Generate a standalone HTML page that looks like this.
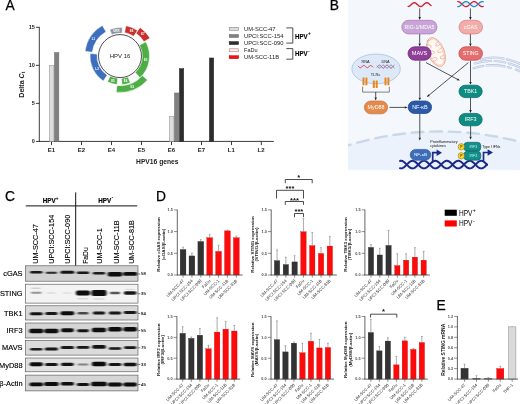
<!DOCTYPE html>
<html><head><meta charset="utf-8"><title>Figure</title>
<style>
html,body{margin:0;padding:0;background:#fff;}
svg{display:block;}
text{font-family:"Liberation Sans",Arial,sans-serif;}
</style></head><body>
<svg width="520" height="404" viewBox="0 0 520 404">
<defs>
<filter id="b1" x="-20%" y="-50%" width="140%" height="200%"><feGaussianBlur stdDeviation="0.95 0.5"/></filter>
<filter id="b2" x="-20%" y="-50%" width="140%" height="200%"><feGaussianBlur stdDeviation="0.45"/></filter>
</defs>
<rect x="0" y="0" width="520" height="404" fill="#fff"/>
<g id="panelA">
<text x="5.40" y="9.80" font-size="13.8" text-anchor="start" fill="#000" stroke="#000" stroke-width="0.25">A</text>
<line x1="39.30" y1="26.90" x2="39.30" y2="141.80" stroke="#1a1a1a" stroke-width="0.85" />
<line x1="38.90" y1="141.40" x2="273.80" y2="141.40" stroke="#1a1a1a" stroke-width="0.85" />
<line x1="35.90" y1="141.40" x2="39.30" y2="141.40" stroke="#1a1a1a" stroke-width="0.85" />
<text x="34.90" y="143.35" font-size="5.5" text-anchor="end" fill="#222" font-weight="bold">0</text>
<line x1="35.90" y1="103.37" x2="39.30" y2="103.37" stroke="#1a1a1a" stroke-width="0.85" />
<text x="34.90" y="105.32" font-size="5.5" text-anchor="end" fill="#222" font-weight="bold">5</text>
<line x1="35.90" y1="65.33" x2="39.30" y2="65.33" stroke="#1a1a1a" stroke-width="0.85" />
<text x="34.90" y="67.28" font-size="5.5" text-anchor="end" fill="#222" font-weight="bold">10</text>
<line x1="35.90" y1="27.30" x2="39.30" y2="27.30" stroke="#1a1a1a" stroke-width="0.85" />
<text x="34.90" y="29.25" font-size="5.5" text-anchor="end" fill="#222" font-weight="bold">15</text>
<line x1="51.50" y1="141.40" x2="51.50" y2="145.10" stroke="#1a1a1a" stroke-width="0.85" />
<text x="51.30" y="151.60" font-size="6.0" text-anchor="middle" fill="#222" font-weight="bold">E1</text>
<line x1="81.50" y1="141.40" x2="81.50" y2="145.10" stroke="#1a1a1a" stroke-width="0.85" />
<text x="81.30" y="151.60" font-size="6.0" text-anchor="middle" fill="#222" font-weight="bold">E2</text>
<line x1="111.50" y1="141.40" x2="111.50" y2="145.10" stroke="#1a1a1a" stroke-width="0.85" />
<text x="111.30" y="151.60" font-size="6.0" text-anchor="middle" fill="#222" font-weight="bold">E4</text>
<line x1="141.50" y1="141.40" x2="141.50" y2="145.10" stroke="#1a1a1a" stroke-width="0.85" />
<text x="141.30" y="151.60" font-size="6.0" text-anchor="middle" fill="#222" font-weight="bold">E5</text>
<line x1="171.50" y1="141.40" x2="171.50" y2="145.10" stroke="#1a1a1a" stroke-width="0.85" />
<text x="171.30" y="151.60" font-size="6.0" text-anchor="middle" fill="#222" font-weight="bold">E6</text>
<line x1="201.50" y1="141.40" x2="201.50" y2="145.10" stroke="#1a1a1a" stroke-width="0.85" />
<text x="201.30" y="151.60" font-size="6.0" text-anchor="middle" fill="#222" font-weight="bold">E7</text>
<line x1="231.50" y1="141.40" x2="231.50" y2="145.10" stroke="#1a1a1a" stroke-width="0.85" />
<text x="231.30" y="151.60" font-size="6.0" text-anchor="middle" fill="#222" font-weight="bold">L1</text>
<line x1="261.30" y1="141.40" x2="261.30" y2="145.10" stroke="#1a1a1a" stroke-width="0.85" />
<text x="261.10" y="151.60" font-size="6.0" text-anchor="middle" fill="#222" font-weight="bold">L2</text>
<text x="157.30" y="164.40" font-size="6.8" text-anchor="middle" fill="#222" font-weight="bold" textLength="42.50" lengthAdjust="spacingAndGlyphs">HPV16 genes</text>
<text transform="translate(23.8 84.7) rotate(-90)" font-size="7.1" font-weight="bold" fill="#222" text-anchor="middle">Delta <tspan font-style="italic">C</tspan><tspan font-size="4.8" dy="1.5">t</tspan></text>
<rect x="49.55" y="65.58" width="4.40" height="75.82" fill="#dcdcdc" stroke="#8a8a8a" stroke-width="0.5"/>
<rect x="54.45" y="52.65" width="4.40" height="88.75" fill="#808080" stroke="#6a6a6a" stroke-width="0.5"/>
<rect x="169.55" y="116.55" width="4.40" height="24.85" fill="#dcdcdc" stroke="#8a8a8a" stroke-width="0.5"/>
<rect x="174.45" y="92.97" width="4.40" height="48.43" fill="#808080" stroke="#6a6a6a" stroke-width="0.5"/>
<rect x="179.35" y="68.63" width="4.40" height="72.77" fill="#2d2d2d" stroke="#2d2d2d" stroke-width="0.5"/>
<rect x="209.35" y="57.98" width="4.40" height="83.42" fill="#2d2d2d" stroke="#2d2d2d" stroke-width="0.5"/>
<rect x="229.20" y="27.30" width="9.40" height="3.00" fill="#dcdcdc" stroke="#777" stroke-width="0.5"/>
<text x="244.00" y="30.80" font-size="5.7" text-anchor="start" fill="#222" textLength="31.50" lengthAdjust="spacingAndGlyphs">UM-SCC-47</text>
<rect x="229.20" y="34.50" width="9.40" height="3.00" fill="#808080" stroke="#666" stroke-width="0.5"/>
<text x="244.00" y="38.00" font-size="5.7" text-anchor="start" fill="#222" textLength="39.40" lengthAdjust="spacingAndGlyphs">UPCI:SCC-154</text>
<rect x="229.20" y="41.60" width="9.40" height="3.00" fill="#2d2d2d" stroke="#222" stroke-width="0.5"/>
<text x="244.00" y="45.10" font-size="5.7" text-anchor="start" fill="#222" textLength="39.40" lengthAdjust="spacingAndGlyphs">UPCI:SCC-090</text>
<rect x="229.20" y="48.80" width="9.40" height="3.00" fill="#fbeaea" stroke="#9a6a6a" stroke-width="0.5"/>
<text x="244.00" y="52.30" font-size="5.7" text-anchor="start" fill="#222" textLength="13.60" lengthAdjust="spacingAndGlyphs">FaDu</text>
<rect x="229.20" y="55.70" width="9.40" height="3.00" fill="#ee1111" stroke="#cc0000" stroke-width="0.5"/>
<text x="244.00" y="59.20" font-size="5.7" text-anchor="start" fill="#222" textLength="35.00" lengthAdjust="spacingAndGlyphs">UM-SCC-11B</text>
<path d="M286.3 27.9 H292.8 V43.1 H286.3" fill="none" stroke="#222" stroke-width="0.8" />
<path d="M286.3 48.6 H292.8 V59.2 H286.3" fill="none" stroke="#222" stroke-width="0.8" />
<text x="295.0" y="38.6" font-size="7.7" font-weight="bold" fill="#000" stroke="#000" stroke-width="0.15" textLength="12.6" lengthAdjust="spacingAndGlyphs">HPV</text>
<text x="307.80" y="35.20" font-size="5.5" text-anchor="start" fill="#111" font-weight="bold">+</text>
<text x="295.0" y="56.4" font-size="7.7" font-weight="bold" fill="#000" stroke="#000" stroke-width="0.15" textLength="12.6" lengthAdjust="spacingAndGlyphs">HPV</text>
<text x="307.90" y="52.60" font-size="5.5" text-anchor="start" fill="#111" font-weight="bold">-</text>
<path d="M85.04 51.19 A35.3 35.3 0 0 1 102.35 25.53 L106.00 31.85 A28.0 28.0 0 0 0 92.27 52.20 Z" fill="#3d6fbe" stroke="#fff" stroke-width="0.5"/>
<text x="93.33" y="39.78" font-size="2.9" text-anchor="middle" fill="#fff" font-weight="bold">L1</text>
<path d="M103.22 80.97 A30.0 30.0 0 0 1 90.11 53.49 L97.09 54.10 A23.0 23.0 0 0 0 107.14 75.17 Z" fill="#3d6fbe" stroke="#fff" stroke-width="0.5"/>
<text x="97.05" y="70.35" font-size="2.9" text-anchor="middle" fill="#fff" font-weight="bold">L2</text>
<path d="M109.75 29.40 A28.6 28.6 0 0 1 122.49 27.61 L122.00 33.19 A23.0 23.0 0 0 0 111.76 34.63 Z" fill="#8a949b" stroke="#fff" stroke-width="0.5"/>
<text x="116.41" y="31.55" font-size="2.9" text-anchor="middle" fill="#fff" font-weight="bold">URR</text>
<path d="M125.92 25.67 A31.0 31.0 0 0 1 137.56 30.55 L133.59 36.32 A24.0 24.0 0 0 0 124.58 32.54 Z" fill="#c9302c" stroke="#fff" stroke-width="0.5"/>
<text x="131.62" y="32.18" font-size="2.9" text-anchor="middle" fill="#fff" font-weight="bold">E6</text>
<path d="M140.08 27.43 A35.0 35.0 0 0 1 150.00 38.07 L144.00 41.68 A28.0 28.0 0 0 0 136.06 33.16 Z" fill="#c9302c" stroke="#fff" stroke-width="0.5"/>
<text x="142.85" y="35.42" font-size="2.9" text-anchor="middle" fill="#fff" font-weight="bold">E7</text>
<path d="M145.80 41.80 A29.5 29.5 0 0 1 140.12 77.67 L135.21 72.41 A22.3 22.3 0 0 0 139.50 45.29 Z" fill="#4cae45" stroke="#fff" stroke-width="0.5"/>
<text x="145.75" y="60.72" font-size="2.9" text-anchor="middle" fill="#fff" font-weight="bold">E1</text>
<path d="M147.47 79.98 A36.4 36.4 0 0 1 116.20 92.30 L116.91 85.54 A29.6 29.6 0 0 0 142.34 75.52 Z" fill="#4cae45" stroke="#fff" stroke-width="0.5"/>
<text x="132.36" y="87.70" font-size="2.9" text-anchor="middle" fill="#fff" font-weight="bold">E2</text>
<path d="M130.25 82.80 A28.6 28.6 0 0 1 122.00 84.63 L121.56 78.35 A22.3 22.3 0 0 0 127.99 76.92 Z" fill="#4cae45" stroke="#fff" stroke-width="0.5"/>
<text x="125.52" y="82.00" font-size="2.9" text-anchor="middle" fill="#fff" font-weight="bold">E4</text>
<path d="M117.01 84.54 A28.6 28.6 0 0 1 107.46 81.81 L110.22 76.14 A22.3 22.3 0 0 0 117.67 78.28 Z" fill="#4cae45" stroke="#fff" stroke-width="0.5"/>
<text x="112.97" y="81.61" font-size="2.9" text-anchor="middle" fill="#fff" font-weight="bold">E5</text>
<circle cx="120.0" cy="56.1" r="21.5" fill="#fff" stroke="#222" stroke-width="0.8"/>
<text x="120.00" y="58.30" font-size="6.0" text-anchor="middle" fill="#222" textLength="20.50" lengthAdjust="spacingAndGlyphs">HPV 16</text>
</g>
<g id="panelB">
<text x="329.70" y="9.70" font-size="13.8" text-anchor="start" fill="#000" stroke="#000" stroke-width="0.25">B</text>
<clipPath id="clipB"><rect x="348" y="0" width="172" height="169.8"/></clipPath>
<g clip-path="url(#clipB)">
<rect x="348.00" y="0.00" width="172.00" height="169.80" fill="#f4f7fc"/>
<path d="M339.6 148.2 A260 215 0 0 1 530 144.8 V180 H339.6 Z" fill="#ecf2fb"/>
<path d="M339.6 148.2 A260 215 0 0 1 530 144.8" fill="none" stroke="#c8d8e7" stroke-width="2.4" stroke-dasharray="11.6 6.9" stroke-linecap="round"/>
<path d="M481 59.6 Q497 53.8 521 64.2" fill="none" stroke="#b6c5df" stroke-width="2.2" stroke-linecap="round" stroke-dasharray="23 3.4 30"/>
<path d="M481 59.6 Q497 53.8 521 64.2" fill="none" stroke="#e8edf8" stroke-width="0.9" stroke-linecap="round" stroke-dasharray="23 3.4 30"/>
<path d="M474.8 63.5 Q496 56.7 521 67.9" fill="none" stroke="#b6c5df" stroke-width="2.2" stroke-linecap="round" stroke-dasharray="16.5 3.4 11 3.4 30"/>
<path d="M474.8 63.5 Q496 56.7 521 67.9" fill="none" stroke="#e8edf8" stroke-width="0.9" stroke-linecap="round" stroke-dasharray="16.5 3.4 11 3.4 30"/>
<path d="M473.6 68.3 Q496 60.7 521 71.7" fill="none" stroke="#b6c5df" stroke-width="2.2" stroke-linecap="round" stroke-dasharray="10 3.4 18 3.4 3 5.5 30"/>
<path d="M473.6 68.3 Q496 60.7 521 71.7" fill="none" stroke="#e8edf8" stroke-width="0.9" stroke-linecap="round" stroke-dasharray="10 3.4 18 3.4 3 5.5 30"/>
<ellipse cx="376.1" cy="68.9" rx="24.2" ry="14.9" fill="#dde8f8" stroke="#8fb1de" stroke-width="0.6"/>
<path d="M408.20 6.49 L408.58 6.43 L408.96 6.30 L409.34 6.11 L409.72 5.87 L410.10 5.58 L410.48 5.25 L410.86 4.90 L411.24 4.54 L411.62 4.18 L412.00 3.83 L412.38 3.52 L412.76 3.24 L413.14 3.01 L413.52 2.84 L413.90 2.74 L414.28 2.70 L414.66 2.73 L415.04 2.83 L415.42 2.99 L415.80 3.21 L416.18 3.49 L416.56 3.80 L416.94 4.14 L417.32 4.50 L417.70 4.86 L418.08 5.21 L418.46 5.54 L418.84 5.84 L419.22 6.09 L419.60 6.29 L419.98 6.42 L420.36 6.49 L420.74 6.49 L421.12 6.42 L421.50 6.29 L421.88 6.09 L422.26 5.84 L422.64 5.54 L423.02 5.21 L423.40 4.86 L423.78 4.50 L424.16 4.14 L424.54 3.80 L424.92 3.49 L425.30 3.21 L425.68 2.99 L426.06 2.83 L426.44 2.73 L426.82 2.70 L427.20 2.74 L427.58 2.84 L427.96 3.01 L428.34 3.24 L428.72 3.52 L429.10 3.83 L429.48 4.18 L429.86 4.54 L430.24 4.90 L430.62 5.25 L431.00 5.58" fill="none" stroke="#d22128" stroke-width="1.4" stroke-linecap="round" stroke-linejoin="round"/>
<line x1="460.00" y1="2.60" x2="460.00" y2="5.60" stroke="#9fc3e6" stroke-width="0.4" />
<line x1="462.10" y1="2.60" x2="462.10" y2="5.60" stroke="#9fc3e6" stroke-width="0.4" />
<line x1="464.20" y1="2.60" x2="464.20" y2="5.60" stroke="#9fc3e6" stroke-width="0.4" />
<line x1="466.30" y1="2.60" x2="466.30" y2="5.60" stroke="#9fc3e6" stroke-width="0.4" />
<line x1="468.40" y1="2.60" x2="468.40" y2="5.60" stroke="#9fc3e6" stroke-width="0.4" />
<line x1="470.50" y1="2.60" x2="470.50" y2="5.60" stroke="#9fc3e6" stroke-width="0.4" />
<line x1="472.60" y1="2.60" x2="472.60" y2="5.60" stroke="#9fc3e6" stroke-width="0.4" />
<line x1="474.70" y1="2.60" x2="474.70" y2="5.60" stroke="#9fc3e6" stroke-width="0.4" />
<line x1="476.80" y1="2.60" x2="476.80" y2="5.60" stroke="#9fc3e6" stroke-width="0.4" />
<line x1="478.90" y1="2.60" x2="478.90" y2="5.60" stroke="#9fc3e6" stroke-width="0.4" />
<line x1="481.00" y1="2.60" x2="481.00" y2="5.60" stroke="#9fc3e6" stroke-width="0.4" />
<path d="M457.80 1.60 L458.22 1.62 L458.65 1.70 L459.07 1.85 L459.49 2.06 L459.92 2.33 L460.34 2.64 L460.76 2.99 L461.19 3.37 L461.61 3.77 L462.03 4.18 L462.46 4.59 L462.88 4.98 L463.30 5.35 L463.73 5.69 L464.15 5.98 L464.57 6.23 L465.00 6.41 L465.42 6.54 L465.84 6.60 L466.27 6.59 L466.69 6.51 L467.11 6.37 L467.54 6.17 L467.96 5.91 L468.38 5.61 L468.81 5.26 L469.23 4.88 L469.65 4.48 L470.08 4.07 L470.50 3.67 L470.92 3.27 L471.35 2.90 L471.77 2.55 L472.19 2.25 L472.62 2.00 L473.04 1.81 L473.46 1.68 L473.89 1.61 L474.31 1.61 L474.73 1.68 L475.16 1.81 L475.58 2.00 L476.00 2.25 L476.43 2.55 L476.85 2.89 L477.27 3.27 L477.70 3.66 L478.12 4.07 L478.54 4.48 L478.97 4.88 L479.39 5.26 L479.81 5.60 L480.24 5.91 L480.66 6.17 L481.08 6.37 L481.51 6.51 L481.93 6.59 L482.35 6.60 L482.78 6.54 L483.20 6.41" fill="none" stroke="#d22128" stroke-width="1.3" stroke-linecap="round" stroke-linejoin="round"/>
<path d="M457.80 6.60 L458.22 6.58 L458.65 6.50 L459.07 6.35 L459.49 6.14 L459.92 5.87 L460.34 5.56 L460.76 5.21 L461.19 4.83 L461.61 4.43 L462.03 4.02 L462.46 3.61 L462.88 3.22 L463.30 2.85 L463.73 2.51 L464.15 2.22 L464.57 1.97 L465.00 1.79 L465.42 1.66 L465.84 1.60 L466.27 1.61 L466.69 1.69 L467.11 1.83 L467.54 2.03 L467.96 2.29 L468.38 2.59 L468.81 2.94 L469.23 3.32 L469.65 3.72 L470.08 4.13 L470.50 4.53 L470.92 4.93 L471.35 5.30 L471.77 5.65 L472.19 5.95 L472.62 6.20 L473.04 6.39 L473.46 6.52 L473.89 6.59 L474.31 6.59 L474.73 6.52 L475.16 6.39 L475.58 6.20 L476.00 5.95 L476.43 5.65 L476.85 5.31 L477.27 4.93 L477.70 4.54 L478.12 4.13 L478.54 3.72 L478.97 3.32 L479.39 2.94 L479.81 2.60 L480.24 2.29 L480.66 2.03 L481.08 1.83 L481.51 1.69 L481.93 1.61 L482.35 1.60 L482.78 1.66 L483.20 1.79" fill="none" stroke="#2f86c9" stroke-width="1.3" stroke-linecap="round" stroke-linejoin="round"/>
<text x="365.60" y="63.10" font-size="3.9" text-anchor="middle" fill="#222" textLength="8.10" lengthAdjust="spacingAndGlyphs">RNA</text>
<text x="385.60" y="63.10" font-size="3.9" text-anchor="middle" fill="#222" textLength="8.10" lengthAdjust="spacingAndGlyphs">DNA</text>
<path d="M358.20 66.18 L358.44 66.42 L358.69 66.66 L358.93 66.90 L359.17 67.13 L359.42 67.33 L359.66 67.49 L359.90 67.61 L360.15 67.68 L360.39 67.70 L360.63 67.66 L360.88 67.58 L361.12 67.44 L361.36 67.26 L361.61 67.06 L361.85 66.82 L362.09 66.58 L362.34 66.34 L362.58 66.11 L362.82 65.91 L363.07 65.74 L363.31 65.61 L363.55 65.53 L363.80 65.50 L364.04 65.53 L364.28 65.60 L364.53 65.73 L364.77 65.90 L365.01 66.11 L365.26 66.33 L365.50 66.57 L365.74 66.82 L365.99 67.05 L366.23 67.26 L366.47 67.44 L366.72 67.57 L366.96 67.66 L367.20 67.70 L367.45 67.68 L367.69 67.61 L367.93 67.49 L368.18 67.33 L368.42 67.13 L368.66 66.91 L368.91 66.67 L369.15 66.43 L369.39 66.19 L369.64 65.98 L369.88 65.79 L370.12 65.65 L370.37 65.55 L370.61 65.50 L370.85 65.51 L371.10 65.57 L371.34 65.68 L371.58 65.84 L371.83 66.03 L372.07 66.25 L372.31 66.49 L372.56 66.73 L372.80 66.97" fill="none" stroke="#d22128" stroke-width="0.9" stroke-linecap="round" stroke-linejoin="round"/>
<path d="M377.20 67.09 L377.48 66.75 L377.76 66.40 L378.04 66.07 L378.32 65.76 L378.60 65.50 L378.88 65.29 L379.16 65.16 L379.44 65.10 L379.72 65.12 L380.00 65.23 L380.28 65.40 L380.56 65.64 L380.84 65.93 L381.12 66.26 L381.40 66.60 L381.68 66.94 L381.96 67.27 L382.24 67.56 L382.52 67.80 L382.80 67.97 L383.08 68.08 L383.36 68.10 L383.64 68.04 L383.92 67.91 L384.20 67.70 L384.48 67.44 L384.76 67.13 L385.04 66.80 L385.32 66.45 L385.60 66.11 L385.88 65.80 L386.16 65.53 L386.44 65.32 L386.72 65.17 L387.00 65.11 L387.28 65.12 L387.56 65.21 L387.84 65.37 L388.12 65.60 L388.40 65.89 L388.68 66.21 L388.96 66.55 L389.24 66.90 L389.52 67.23 L389.80 67.52 L390.08 67.77 L390.36 67.95 L390.64 68.07 L390.92 68.10 L391.20 68.05 L391.48 67.93 L391.76 67.74 L392.04 67.48 L392.32 67.18 L392.60 66.85 L392.88 66.50 L393.16 66.16 L393.44 65.84 L393.72 65.57 L394.00 65.34" fill="none" stroke="#d22128" stroke-width="0.8" stroke-linecap="round" stroke-linejoin="round"/>
<path d="M377.20 66.11 L377.48 66.45 L377.76 66.80 L378.04 67.13 L378.32 67.44 L378.60 67.70 L378.88 67.91 L379.16 68.04 L379.44 68.10 L379.72 68.08 L380.00 67.97 L380.28 67.80 L380.56 67.56 L380.84 67.27 L381.12 66.94 L381.40 66.60 L381.68 66.26 L381.96 65.93 L382.24 65.64 L382.52 65.40 L382.80 65.23 L383.08 65.12 L383.36 65.10 L383.64 65.16 L383.92 65.29 L384.20 65.50 L384.48 65.76 L384.76 66.07 L385.04 66.40 L385.32 66.75 L385.60 67.09 L385.88 67.40 L386.16 67.67 L386.44 67.88 L386.72 68.03 L387.00 68.09 L387.28 68.08 L387.56 67.99 L387.84 67.83 L388.12 67.60 L388.40 67.31 L388.68 66.99 L388.96 66.65 L389.24 66.30 L389.52 65.97 L389.80 65.68 L390.08 65.43 L390.36 65.25 L390.64 65.13 L390.92 65.10 L391.20 65.15 L391.48 65.27 L391.76 65.46 L392.04 65.72 L392.32 66.02 L392.60 66.35 L392.88 66.70 L393.16 67.04 L393.44 67.36 L393.72 67.63 L394.00 67.86" fill="none" stroke="#2f86c9" stroke-width="0.8" stroke-linecap="round" stroke-linejoin="round"/>
<text x="375.60" y="76.10" font-size="3.9" text-anchor="middle" fill="#222" textLength="9.50" lengthAdjust="spacingAndGlyphs">TLRs</text>
<rect x="362.50" y="77.60" width="2.00" height="7.60" fill="#e8861a" rx="0.5"/>
<rect x="365.40" y="77.60" width="2.00" height="7.60" fill="#e8861a" rx="0.5"/>
<rect x="372.80" y="80.40" width="2.00" height="7.60" fill="#e8861a" rx="0.5"/>
<rect x="375.70" y="80.40" width="2.00" height="7.60" fill="#e8861a" rx="0.5"/>
<rect x="384.50" y="77.60" width="2.00" height="7.60" fill="#e8861a" rx="0.5"/>
<rect x="387.40" y="77.60" width="2.00" height="7.60" fill="#e8861a" rx="0.5"/>
<path d="M362.6 86.7 V92.1 H389.3 V86.7" fill="none" stroke="#333" stroke-width="0.6" />
<line x1="375.70" y1="92.00" x2="375.70" y2="97.50" stroke="#1c1c1c" stroke-width="0.75" />
<polygon points="375.70,100.40 374.48,97.50 376.92,97.50" fill="#1c1c1c"/>
<line x1="419.70" y1="8.40" x2="419.70" y2="17.00" stroke="#1c1c1c" stroke-width="0.75" />
<polygon points="419.70,19.90 418.48,17.00 420.92,17.00" fill="#1c1c1c"/>
<line x1="470.40" y1="8.40" x2="470.40" y2="17.00" stroke="#1c1c1c" stroke-width="0.75" />
<polygon points="470.40,19.90 469.18,17.00 471.62,17.00" fill="#1c1c1c"/>
<line x1="419.70" y1="34.00" x2="419.70" y2="43.50" stroke="#1c1c1c" stroke-width="0.75" />
<polygon points="419.70,46.40 418.48,43.50 420.92,43.50" fill="#1c1c1c"/>
<line x1="470.40" y1="34.00" x2="470.40" y2="43.50" stroke="#1c1c1c" stroke-width="0.75" />
<polygon points="470.40,46.40 469.18,43.50 471.62,43.50" fill="#1c1c1c"/>
<line x1="419.80" y1="60.60" x2="419.80" y2="97.70" stroke="#1c1c1c" stroke-width="0.75" />
<polygon points="419.80,100.60 418.58,97.70 421.02,97.70" fill="#1c1c1c"/>
<line x1="470.50" y1="60.60" x2="470.50" y2="81.90" stroke="#1c1c1c" stroke-width="0.75" />
<polygon points="470.50,84.80 469.28,81.90 471.72,81.90" fill="#1c1c1c"/>
<line x1="470.50" y1="97.60" x2="470.50" y2="110.10" stroke="#1c1c1c" stroke-width="0.75" />
<polygon points="470.50,113.00 469.28,110.10 471.72,110.10" fill="#1c1c1c"/>
<line x1="426.00" y1="62.60" x2="457.24" y2="79.24" stroke="#1c1c1c" stroke-width="0.75" />
<polygon points="459.80,80.60 456.67,80.31 457.81,78.16" fill="#1c1c1c"/>
<line x1="468.40" y1="62.60" x2="429.03" y2="95.15" stroke="#1c1c1c" stroke-width="0.75" />
<polygon points="426.80,97.00 428.26,94.21 429.81,96.09" fill="#1c1c1c"/>
<line x1="389.50" y1="107.40" x2="404.70" y2="107.40" stroke="#1c1c1c" stroke-width="0.75" />
<polygon points="407.60,107.40 404.70,108.62 404.70,106.18" fill="#1c1c1c"/>
<line x1="419.80" y1="113.60" x2="419.80" y2="137.70" stroke="#1c1c1c" stroke-width="0.75" />
<polygon points="419.80,140.60 418.58,137.70 421.02,137.70" fill="#1c1c1c"/>
<line x1="470.60" y1="126.00" x2="470.60" y2="136.70" stroke="#1c1c1c" stroke-width="0.75" />
<polygon points="470.60,139.60 469.38,136.70 471.82,136.70" fill="#1c1c1c"/>
<g transform="rotate(-22 436 52)"><ellipse cx="436" cy="52" rx="8.2" ry="15.2" fill="#fdf1ea" stroke="#e58a63" stroke-width="0.6"/><ellipse cx="436" cy="52" rx="6.9" ry="13.9" fill="#fff8f4" stroke="#eaa283" stroke-width="0.4"/><path d="M429.3 42 q5 1 4.5 3.5 q-2.5 2 -4.8 -0.5 M442.7 43 q-5 0.5 -4.6 3.2 q2.5 2 4.9 -0.2 M429.1 49 q5.5 0 5.3 2.6 q-3 2.4 -5.3 0 M442.9 50.5 q-5.5 0 -5.2 2.6 q3 2.2 5.2 0 M429.3 56.5 q5 -0.5 5.3 2.2 q-2.5 2.5 -5 0.6 M442.6 58 q-5 -1 -5 1.6 q2.5 2.5 4.6 1.2 M432 37.8 q2.5 2 4.5 0.3" fill="none" stroke="#e8946f" stroke-width="0.5"/></g>
<rect x="401.80" y="20.30" width="35.20" height="13.60" fill="#c9a4d7" stroke="#a97abd" stroke-width="0.75" rx="6.799999999999999"/>
<text x="419.40" y="29.01" font-size="5.3" text-anchor="middle" fill="#fff" textLength="30.00" lengthAdjust="spacingAndGlyphs">RIG-1/MDA5</text>
<rect x="408.00" y="46.80" width="23.10" height="13.40" fill="#903f99" stroke="#6c2877" stroke-width="0.75" rx="6.700000000000003"/>
<text x="419.55" y="55.41" font-size="5.3" text-anchor="middle" fill="#fff" textLength="15.60" lengthAdjust="spacingAndGlyphs">MAVS</text>
<rect x="459.00" y="20.30" width="23.50" height="13.60" fill="#f2acaa" stroke="#dd7f7d" stroke-width="0.75" rx="6.799999999999999"/>
<text x="470.75" y="29.01" font-size="5.3" text-anchor="middle" fill="#fff" textLength="13.60" lengthAdjust="spacingAndGlyphs">cGAS</text>
<rect x="458.90" y="46.80" width="23.60" height="13.40" fill="#e46e6d" stroke="#c64a4b" stroke-width="0.75" rx="6.700000000000003"/>
<text x="470.70" y="55.41" font-size="5.3" text-anchor="middle" fill="#fff" textLength="16.00" lengthAdjust="spacingAndGlyphs">STING</text>
<rect x="364.40" y="101.00" width="23.20" height="12.80" fill="#e38a4e" stroke="#d2763a" stroke-width="0.75" rx="6.399999999999999"/>
<text x="376.00" y="109.27" font-size="5.2" text-anchor="middle" fill="#fff" textLength="17.00" lengthAdjust="spacingAndGlyphs">MyD88</text>
<rect x="408.20" y="101.00" width="23.40" height="12.50" fill="#2b59a8" stroke="#234a8f" stroke-width="0.75" rx="6.25"/>
<text x="419.90" y="109.12" font-size="5.2" text-anchor="middle" fill="#fff" textLength="15.50" lengthAdjust="spacingAndGlyphs">NF-κB</text>
<rect x="459.00" y="85.20" width="23.20" height="12.40" fill="#0f8c82" stroke="#0a6b64" stroke-width="0.75" rx="6.199999999999996"/>
<text x="470.60" y="93.27" font-size="5.2" text-anchor="middle" fill="#fff" textLength="13.20" lengthAdjust="spacingAndGlyphs">TBK1</text>
<rect x="459.00" y="113.40" width="23.20" height="12.40" fill="#0f8c82" stroke="#0a6b64" stroke-width="0.75" rx="6.199999999999996"/>
<text x="470.60" y="121.47" font-size="5.2" text-anchor="middle" fill="#fff" textLength="11.80" lengthAdjust="spacingAndGlyphs">IRF3</text>
<path d="M400.00 168.25 L400.73 168.39 L401.45 168.37 L402.18 168.21 L402.90 167.91 L403.62 167.47 L404.35 166.93 L405.07 166.29 L405.80 165.58 L406.52 164.83 L407.25 164.08 L407.98 163.35 L408.70 162.66 L409.43 162.05 L410.15 161.55 L410.88 161.16 L411.60 160.91 L412.32 160.80 L413.05 160.85 L413.77 161.04 L414.50 161.37 L415.23 161.83 L415.95 162.40 L416.68 163.06 L417.40 163.77 L418.12 164.52 L418.85 165.27 L419.57 166.00 L420.30 166.67 L421.02 167.26 L421.75 167.74 L422.48 168.10 L423.20 168.33 L423.93 168.40 L424.65 168.33 L425.38 168.10 L426.10 167.74 L426.82 167.26 L427.55 166.67 L428.27 166.00 L429.00 165.27 L429.73 164.52 L430.45 163.77 L431.18 163.06 L431.90 162.40 L432.62 161.83 L433.35 161.37 L434.07 161.04 L434.80 160.85 L435.52 160.80 L436.25 160.91 L436.98 161.16 L437.70 161.55 L438.43 162.05 L439.15 162.66 L439.88 163.35 L440.60 164.08 L441.32 164.83 L442.05 165.58 L442.77 166.29 L443.50 166.93 L444.23 167.47 L444.95 167.91 L445.68 168.21 L446.40 168.37 L447.12 168.39 L447.85 168.25 L448.57 167.97 L449.30 167.56 L450.02 167.03 L450.75 166.40 L451.48 165.70 L452.20 164.96 L452.93 164.21 L453.65 163.47 L454.38 162.78 L455.10 162.15 L455.82 161.63 L456.55 161.22 L457.27 160.94 L458.00 160.81 L458.73 160.83 L459.45 161.00 L460.18 161.30 L460.90 161.74 L461.62 162.30 L462.35 162.94 L463.07 163.65 L463.80 164.39 L464.52 165.15 L465.25 165.88 L465.98 166.56 L466.70 167.16 L467.43 167.67 L468.15 168.05 L468.88 168.30 L469.60 168.40 L470.32 168.35 L471.05 168.15 L471.77 167.81 L472.50 167.35 L473.23 166.78 L473.95 166.12 L474.68 165.40 L475.40 164.65 L476.12 163.90 L476.85 163.18 L477.57 162.51 L478.30 161.92 L479.02 161.44 L479.75 161.09 L480.48 160.87 L481.20 160.80 L481.93 160.88 L482.65 161.11 L483.38 161.47 L484.10 161.96 L484.82 162.55 L485.55 163.22 L486.27 163.95 L487.00 164.70" fill="none" stroke="#1b2889" stroke-width="2.0" stroke-linecap="round" stroke-linejoin="round"/>
<path d="M400.00 160.95 L400.73 160.81 L401.45 160.83 L402.18 160.99 L402.90 161.29 L403.62 161.73 L404.35 162.27 L405.07 162.91 L405.80 163.62 L406.52 164.37 L407.25 165.12 L407.98 165.85 L408.70 166.54 L409.43 167.15 L410.15 167.65 L410.88 168.04 L411.60 168.29 L412.32 168.40 L413.05 168.35 L413.77 168.16 L414.50 167.83 L415.23 167.37 L415.95 166.80 L416.68 166.14 L417.40 165.43 L418.12 164.68 L418.85 163.93 L419.57 163.20 L420.30 162.53 L421.02 161.94 L421.75 161.46 L422.48 161.10 L423.20 160.87 L423.93 160.80 L424.65 160.87 L425.38 161.10 L426.10 161.46 L426.82 161.94 L427.55 162.53 L428.27 163.20 L429.00 163.93 L429.73 164.68 L430.45 165.43 L431.18 166.14 L431.90 166.80 L432.62 167.37 L433.35 167.83 L434.07 168.16 L434.80 168.35 L435.52 168.40 L436.25 168.29 L436.98 168.04 L437.70 167.65 L438.43 167.15 L439.15 166.54 L439.88 165.85 L440.60 165.12 L441.32 164.37 L442.05 163.62 L442.77 162.91 L443.50 162.27 L444.23 161.73 L444.95 161.29 L445.68 160.99 L446.40 160.83 L447.12 160.81 L447.85 160.95 L448.57 161.23 L449.30 161.64 L450.02 162.17 L450.75 162.80 L451.48 163.50 L452.20 164.24 L452.93 164.99 L453.65 165.73 L454.38 166.42 L455.10 167.05 L455.82 167.57 L456.55 167.98 L457.27 168.26 L458.00 168.39 L458.73 168.37 L459.45 168.20 L460.18 167.90 L460.90 167.46 L461.62 166.90 L462.35 166.26 L463.07 165.55 L463.80 164.81 L464.52 164.05 L465.25 163.32 L465.98 162.64 L466.70 162.04 L467.43 161.53 L468.15 161.15 L468.88 160.90 L469.60 160.80 L470.32 160.85 L471.05 161.05 L471.77 161.39 L472.50 161.85 L473.23 162.42 L473.95 163.08 L474.68 163.80 L475.40 164.55 L476.12 165.30 L476.85 166.02 L477.57 166.69 L478.30 167.28 L479.02 167.76 L479.75 168.11 L480.48 168.33 L481.20 168.40 L481.93 168.32 L482.65 168.09 L483.38 167.73 L484.10 167.24 L484.82 166.65 L485.55 165.98 L486.27 165.25 L487.00 164.50" fill="none" stroke="#1b2889" stroke-width="2.0" stroke-linecap="round" stroke-linejoin="round"/>
<rect x="410.20" y="149.40" width="20.60" height="10.80" fill="#3d6cb9" stroke="#3560a8" stroke-width="0.75" rx="5.3999999999999915"/>
<text x="420.50" y="156.38" font-size="4.4" text-anchor="middle" fill="#fff" textLength="13.00" lengthAdjust="spacingAndGlyphs">NF-κB</text>
<path d="M432.7 162.0 V152.7 H437.5" fill="none" stroke="#1c2a8c" stroke-width="1.7" />
<polygon points="442.00,152.70 436.60,149.50 436.60,155.90" fill="#1c2a8c"/>
<path d="M483.5 162.0 V152.5 H488.5" fill="none" stroke="#1c2a8c" stroke-width="1.7" />
<polygon points="493.00,152.50 487.60,149.30 487.60,155.70" fill="#1c2a8c"/>
<text x="430.20" y="143.00" font-size="3.3" text-anchor="start" fill="#111" textLength="27.50" lengthAdjust="spacingAndGlyphs">Proinflammatory</text>
<text x="430.20" y="147.30" font-size="3.3" text-anchor="start" fill="#111" textLength="15.60" lengthAdjust="spacingAndGlyphs">cytokines</text>
<text x="482.20" y="147.70" font-size="3.3" text-anchor="start" fill="#111" textLength="18.20" lengthAdjust="spacingAndGlyphs">Type I IFNs</text>
<rect x="464.00" y="142.30" width="16.80" height="8.90" fill="#10908a" stroke="#0a5a55" stroke-width="0.6" rx="3.4"/>
<rect x="464.00" y="151.30" width="16.80" height="8.90" fill="#10908a" stroke="#0a5a55" stroke-width="0.6" rx="3.4"/>
<text x="473.40" y="148.00" font-size="3.6" text-anchor="middle" fill="#c8ebe8">IRF3</text>
<text x="473.40" y="157.00" font-size="3.6" text-anchor="middle" fill="#c8ebe8">IRF3</text>
<circle cx="461.3" cy="146.8" r="3.2" fill="#f7d633" stroke="#7a6a10" stroke-width="0.5"/>
<text x="461.30" y="148.00" font-size="3.4" text-anchor="middle" fill="#5a4a00" font-weight="bold">P</text>
<circle cx="461.3" cy="155.8" r="3.2" fill="#f7d633" stroke="#7a6a10" stroke-width="0.5"/>
<text x="461.30" y="157.00" font-size="3.4" text-anchor="middle" fill="#5a4a00" font-weight="bold">P</text>
</g></g>
<g id="panelC">
<text x="5.10" y="201.00" font-size="13.8" text-anchor="start" fill="#000" stroke="#000" stroke-width="0.25">C</text>
<text x="42.8" y="202.6" font-size="7.7" font-weight="bold" fill="#000" stroke="#000" stroke-width="0.2" textLength="12.9" lengthAdjust="spacingAndGlyphs">HPV</text>
<text x="55.60" y="199.60" font-size="5.4" text-anchor="start" fill="#000" font-weight="bold">+</text>
<text x="98.2" y="202.6" font-size="7.7" font-weight="bold" fill="#000" stroke="#000" stroke-width="0.2" textLength="12.9" lengthAdjust="spacingAndGlyphs">HPV</text>
<text x="111.60" y="198.80" font-size="5.4" text-anchor="start" fill="#000" font-weight="bold">-</text>
<line x1="25.80" y1="205.90" x2="137.20" y2="205.90" stroke="#111" stroke-width="1.0" />
<line x1="75.70" y1="192.40" x2="75.70" y2="265.80" stroke="#111" stroke-width="1.0" />
<text x="38.30" y="263.80" font-size="7.1" text-anchor="start" fill="#000" transform="rotate(-90 38.30 263.80)" textLength="39.50" lengthAdjust="spacingAndGlyphs" stroke="#000" stroke-width="0.12">UM-SCC-47</text>
<text x="54.10" y="263.80" font-size="7.1" text-anchor="start" fill="#000" transform="rotate(-90 54.10 263.80)" textLength="49.00" lengthAdjust="spacingAndGlyphs" stroke="#000" stroke-width="0.12">UPCI:SCC-154</text>
<text x="70.10" y="263.80" font-size="7.1" text-anchor="start" fill="#000" transform="rotate(-90 70.10 263.80)" textLength="49.00" lengthAdjust="spacingAndGlyphs" stroke="#000" stroke-width="0.12">UPCI:SCC-090</text>
<text x="88.20" y="263.80" font-size="7.1" text-anchor="start" fill="#000" transform="rotate(-90 88.20 263.80)" textLength="16.50" lengthAdjust="spacingAndGlyphs" stroke="#000" stroke-width="0.12">FaDu</text>
<text x="102.30" y="263.80" font-size="7.1" text-anchor="start" fill="#000" transform="rotate(-90 102.30 263.80)" textLength="35.50" lengthAdjust="spacingAndGlyphs" stroke="#000" stroke-width="0.12">UM-SCC-1</text>
<text x="118.70" y="263.80" font-size="7.1" text-anchor="start" fill="#000" transform="rotate(-90 118.70 263.80)" textLength="43.50" lengthAdjust="spacingAndGlyphs" stroke="#000" stroke-width="0.12">UM-SCC-11B</text>
<text x="134.30" y="263.80" font-size="7.1" text-anchor="start" fill="#000" transform="rotate(-90 134.30 263.80)" textLength="43.50" lengthAdjust="spacingAndGlyphs" stroke="#000" stroke-width="0.12">UM-SCC-81B</text>
<clipPath id="cb265"><rect x="25.5" y="265.8" width="112.5" height="15.399999999999977"/></clipPath>
<rect x="25.50" y="265.80" width="112.50" height="15.40" fill="#d1d1d1"/>
<g clip-path="url(#cb265)" filter="url(#b1)">
<rect x="30.20" y="271.00" width="12.20" height="2.60" rx="1.30" fill="#0a0a0a" opacity="0.95"/>
<rect x="45.80" y="271.65" width="11.20" height="2.10" rx="1.05" fill="#0a0a0a" opacity="0.85"/>
<rect x="60.55" y="270.80" width="13.70" height="3.00" rx="1.50" fill="#0a0a0a" opacity="0.97"/>
<rect x="76.90" y="271.50" width="12.20" height="2.60" rx="1.30" fill="#0a0a0a" opacity="0.95"/>
<rect x="92.90" y="272.00" width="12.20" height="2.60" rx="1.30" fill="#0a0a0a" opacity="0.92"/>
<rect x="107.65" y="271.90" width="14.70" height="4.60" rx="2.00" fill="#0a0a0a" opacity="1"/>
<rect x="123.10" y="272.05" width="14.20" height="3.70" rx="1.85" fill="#0a0a0a" opacity="1"/>
</g>
<rect x="25.50" y="265.80" width="112.50" height="15.40" fill="none" stroke="#4a4a4a" stroke-width="0.6"/>
<text x="22.50" y="276.10" font-size="7.4" text-anchor="end" fill="#000" stroke="#000" stroke-width="0.15">cGAS</text>
<line x1="138.20" y1="274.00" x2="140.30" y2="274.00" stroke="#111" stroke-width="0.6" />
<text x="141.00" y="275.45" font-size="4.3" text-anchor="start" fill="#000" stroke="#000" stroke-width="0.1">58</text>
<clipPath id="cb284"><rect x="25.5" y="284.2" width="112.5" height="18.900000000000034"/></clipPath>
<rect x="25.50" y="284.20" width="112.50" height="18.90" fill="#f3f3f3"/>
<g clip-path="url(#cb284)" filter="url(#b1)">
<rect x="30.95" y="291.80" width="10.70" height="2.00" rx="1.00" fill="#555" opacity="0.6"/>
<rect x="46.80" y="292.20" width="9.20" height="1.60" rx="0.80" fill="#888" opacity="0.22"/>
<rect x="62.80" y="292.20" width="9.20" height="1.60" rx="0.80" fill="#888" opacity="0.18"/>
<rect x="75.90" y="290.40" width="14.20" height="5.20" rx="2.00" fill="#0a0a0a" opacity="1"/>
<rect x="91.50" y="290.10" width="15.00" height="5.80" rx="2.00" fill="#0a0a0a" opacity="1"/>
<rect x="109.90" y="291.85" width="10.20" height="2.30" rx="1.15" fill="#222" opacity="0.75"/>
<rect x="123.85" y="291.20" width="12.70" height="3.60" rx="1.80" fill="#0a0a0a" opacity="0.97"/>
<rect x="31.25" y="287.40" width="9.50" height="1.60" rx="0.80" fill="#777" opacity="0.28"/>
<rect x="77.50" y="298.00" width="11.00" height="1.60" rx="0.80" fill="#777" opacity="0.22"/>
<rect x="93.50" y="298.20" width="11.00" height="1.60" rx="0.80" fill="#777" opacity="0.22"/>
<rect x="125.70" y="288.70" width="9.00" height="1.60" rx="0.80" fill="#777" opacity="0.2"/>
</g>
<rect x="25.50" y="284.20" width="112.50" height="18.90" fill="none" stroke="#4a4a4a" stroke-width="0.6"/>
<text x="22.50" y="296.25" font-size="7.4" text-anchor="end" fill="#000" stroke="#000" stroke-width="0.15">STING</text>
<line x1="138.20" y1="293.80" x2="140.30" y2="293.80" stroke="#111" stroke-width="0.6" />
<text x="141.00" y="295.25" font-size="4.3" text-anchor="start" fill="#000" stroke="#000" stroke-width="0.1">35</text>
<clipPath id="cb305"><rect x="25.5" y="305.8" width="112.5" height="14.199999999999989"/></clipPath>
<rect x="25.50" y="305.80" width="112.50" height="14.20" fill="#d9d9d9"/>
<g clip-path="url(#cb305)" filter="url(#b1)">
<rect x="29.95" y="312.25" width="12.70" height="3.10" rx="1.55" fill="#0a0a0a" opacity="0.97"/>
<rect x="45.30" y="312.00" width="12.20" height="3.00" rx="1.50" fill="#0a0a0a" opacity="0.95"/>
<rect x="60.55" y="311.20" width="13.70" height="4.00" rx="2.00" fill="#0a0a0a" opacity="1"/>
<rect x="77.65" y="311.90" width="10.70" height="2.60" rx="1.30" fill="#222" opacity="0.8"/>
<rect x="92.90" y="311.50" width="12.20" height="3.00" rx="1.50" fill="#0a0a0a" opacity="0.95"/>
<rect x="108.90" y="311.50" width="12.20" height="3.00" rx="1.50" fill="#0a0a0a" opacity="0.95"/>
<rect x="123.85" y="311.10" width="12.70" height="2.80" rx="1.40" fill="#0a0a0a" opacity="0.95"/>
</g>
<rect x="25.50" y="305.80" width="112.50" height="14.20" fill="none" stroke="#4a4a4a" stroke-width="0.6"/>
<text x="22.50" y="315.50" font-size="7.4" text-anchor="end" fill="#000" stroke="#000" stroke-width="0.15">TBK1</text>
<line x1="138.20" y1="313.40" x2="140.30" y2="313.40" stroke="#111" stroke-width="0.6" />
<text x="141.00" y="314.85" font-size="4.3" text-anchor="start" fill="#000" stroke="#000" stroke-width="0.1">84</text>
<clipPath id="cb323"><rect x="25.5" y="323.0" width="112.5" height="15.0"/></clipPath>
<rect x="25.50" y="323.00" width="112.50" height="15.00" fill="#d5d5d5"/>
<g clip-path="url(#cb323)" filter="url(#b1)">
<rect x="29.20" y="328.70" width="14.20" height="4.60" rx="2.00" fill="#0a0a0a" opacity="1"/>
<rect x="44.30" y="328.70" width="14.20" height="4.60" rx="2.00" fill="#0a0a0a" opacity="1"/>
<rect x="61.05" y="328.30" width="12.70" height="4.00" rx="2.00" fill="#0a0a0a" opacity="1"/>
<rect x="77.15" y="329.35" width="11.70" height="2.90" rx="1.45" fill="#0a0a0a" opacity="0.97"/>
<rect x="91.90" y="327.70" width="14.20" height="4.60" rx="2.00" fill="#0a0a0a" opacity="1"/>
<rect x="108.15" y="327.00" width="13.70" height="4.60" rx="2.00" fill="#0a0a0a" opacity="1"/>
<rect x="123.35" y="327.00" width="13.70" height="4.60" rx="2.00" fill="#0a0a0a" opacity="1"/>
</g>
<rect x="25.50" y="323.00" width="112.50" height="15.00" fill="none" stroke="#4a4a4a" stroke-width="0.6"/>
<text x="22.50" y="333.10" font-size="7.4" text-anchor="end" fill="#000" stroke="#000" stroke-width="0.15">IRF3</text>
<line x1="138.20" y1="330.60" x2="140.30" y2="330.60" stroke="#111" stroke-width="0.6" />
<text x="141.00" y="332.05" font-size="4.3" text-anchor="start" fill="#000" stroke="#000" stroke-width="0.1">55</text>
<clipPath id="cb340"><rect x="25.5" y="340.6" width="112.5" height="14.5"/></clipPath>
<rect x="25.50" y="340.60" width="112.50" height="14.50" fill="#dbdbdb"/>
<g clip-path="url(#cb340)" filter="url(#b1)">
<rect x="30.20" y="348.00" width="12.20" height="2.60" rx="1.30" fill="#0a0a0a" opacity="0.93"/>
<rect x="44.80" y="347.50" width="13.20" height="3.00" rx="1.50" fill="#0a0a0a" opacity="0.95"/>
<rect x="60.80" y="346.10" width="13.20" height="3.00" rx="1.50" fill="#0a0a0a" opacity="0.95"/>
<rect x="76.65" y="346.00" width="12.70" height="2.80" rx="1.40" fill="#0a0a0a" opacity="0.95"/>
<rect x="92.15" y="345.10" width="13.70" height="3.60" rx="1.80" fill="#0a0a0a" opacity="0.98"/>
<rect x="108.90" y="347.25" width="12.20" height="2.50" rx="1.25" fill="#0a0a0a" opacity="0.93"/>
<rect x="124.10" y="346.20" width="12.20" height="2.80" rx="1.40" fill="#0a0a0a" opacity="0.95"/>
</g>
<rect x="25.50" y="340.60" width="112.50" height="14.50" fill="none" stroke="#4a4a4a" stroke-width="0.6"/>
<text x="22.50" y="350.45" font-size="7.4" text-anchor="end" fill="#000" stroke="#000" stroke-width="0.15">MAVS</text>
<line x1="138.20" y1="347.80" x2="140.30" y2="347.80" stroke="#111" stroke-width="0.6" />
<text x="141.00" y="349.25" font-size="4.3" text-anchor="start" fill="#000" stroke="#000" stroke-width="0.1">75</text>
<clipPath id="cb358"><rect x="25.5" y="358.0" width="112.5" height="13.800000000000011"/></clipPath>
<rect x="25.50" y="358.00" width="112.50" height="13.80" fill="#e1e1e1"/>
<g clip-path="url(#cb358)" filter="url(#b1)">
<rect x="29.70" y="362.30" width="13.20" height="4.00" rx="2.00" fill="#0a0a0a" opacity="1"/>
<rect x="45.05" y="362.90" width="12.70" height="3.00" rx="1.50" fill="#0a0a0a" opacity="0.96"/>
<rect x="61.05" y="362.70" width="12.70" height="3.20" rx="1.60" fill="#0a0a0a" opacity="0.97"/>
<rect x="77.65" y="363.60" width="10.70" height="2.00" rx="1.00" fill="#444" opacity="0.6"/>
<rect x="91.90" y="361.70" width="14.20" height="4.60" rx="2.00" fill="#0a0a0a" opacity="1"/>
<rect x="108.65" y="362.90" width="12.70" height="3.00" rx="1.50" fill="#0a0a0a" opacity="0.96"/>
<rect x="123.60" y="362.65" width="13.20" height="3.50" rx="1.75" fill="#0a0a0a" opacity="0.98"/>
</g>
<rect x="25.50" y="358.00" width="112.50" height="13.80" fill="none" stroke="#4a4a4a" stroke-width="0.6"/>
<text x="22.50" y="367.50" font-size="7.4" text-anchor="end" fill="#000" stroke="#000" stroke-width="0.15">MyD88</text>
<line x1="138.20" y1="364.40" x2="140.30" y2="364.40" stroke="#111" stroke-width="0.6" />
<text x="141.00" y="365.85" font-size="4.3" text-anchor="start" fill="#000" stroke="#000" stroke-width="0.1">33</text>
<clipPath id="cb375"><rect x="25.5" y="375.1" width="112.5" height="15.799999999999955"/></clipPath>
<rect x="25.50" y="375.10" width="112.50" height="15.80" fill="#d5d5d5"/>
<g clip-path="url(#cb375)" filter="url(#b1)">
<rect x="29.45" y="382.60" width="13.70" height="3.60" rx="1.80" fill="#0a0a0a" opacity="1"/>
<rect x="44.05" y="382.00" width="14.70" height="4.00" rx="2.00" fill="#0a0a0a" opacity="1"/>
<rect x="60.80" y="382.00" width="13.20" height="3.60" rx="1.80" fill="#0a0a0a" opacity="1"/>
<rect x="76.90" y="383.10" width="12.20" height="3.00" rx="1.50" fill="#0a0a0a" opacity="0.98"/>
<rect x="91.15" y="381.70" width="15.70" height="4.60" rx="2.00" fill="#0a0a0a" opacity="1"/>
<rect x="107.90" y="382.40" width="14.20" height="4.00" rx="2.00" fill="#0a0a0a" opacity="1"/>
<rect x="123.35" y="382.60" width="13.70" height="4.00" rx="2.00" fill="#0a0a0a" opacity="1"/>
</g>
<rect x="25.50" y="375.10" width="112.50" height="15.80" fill="none" stroke="#4a4a4a" stroke-width="0.6"/>
<text x="22.50" y="385.60" font-size="7.4" text-anchor="end" fill="#000" stroke="#000" stroke-width="0.15">β-Actin</text>
<line x1="138.20" y1="384.50" x2="140.30" y2="384.50" stroke="#111" stroke-width="0.6" />
<text x="141.00" y="385.95" font-size="4.3" text-anchor="start" fill="#000" stroke="#000" stroke-width="0.1">45</text>
</g>
<g id="panelD">
<text x="156.00" y="201.00" font-size="13.8" text-anchor="start" fill="#000" stroke="#000" stroke-width="0.25">D</text>
<line x1="183.05" y1="249.35" x2="183.05" y2="247.14" stroke="#666" stroke-width="0.55" />
<line x1="182.15" y1="247.14" x2="183.95" y2="247.14" stroke="#666" stroke-width="0.5" />
<rect x="180.15" y="249.50" width="5.80" height="25.50" fill="#333333" stroke="#222" stroke-width="0.3"/>
<line x1="183.05" y1="275.00" x2="183.05" y2="277.70" stroke="#333" stroke-width="0.55" />
<text x="184.25" y="281.20" font-size="4.2" text-anchor="end" fill="#2a2a2a" transform="rotate(-45 184.25 281.20)">UM-SCC-47</text>
<line x1="191.93" y1="255.77" x2="191.93" y2="253.17" stroke="#666" stroke-width="0.55" />
<line x1="191.03" y1="253.17" x2="192.83" y2="253.17" stroke="#666" stroke-width="0.5" />
<rect x="189.03" y="255.92" width="5.80" height="19.08" fill="#333333" stroke="#222" stroke-width="0.3"/>
<line x1="191.93" y1="275.00" x2="191.93" y2="277.70" stroke="#333" stroke-width="0.55" />
<text x="193.13" y="281.20" font-size="4.2" text-anchor="end" fill="#2a2a2a" transform="rotate(-45 193.13 281.20)">UPCI:SCC-154</text>
<line x1="200.81" y1="241.32" x2="200.81" y2="239.63" stroke="#666" stroke-width="0.55" />
<line x1="199.91" y1="239.63" x2="201.71" y2="239.63" stroke="#666" stroke-width="0.5" />
<rect x="197.91" y="241.47" width="5.80" height="33.53" fill="#333333" stroke="#222" stroke-width="0.3"/>
<line x1="200.81" y1="275.00" x2="200.81" y2="277.70" stroke="#333" stroke-width="0.55" />
<text x="202.01" y="281.20" font-size="4.2" text-anchor="end" fill="#2a2a2a" transform="rotate(-45 202.01 281.20)">UPCI:SCC-090</text>
<line x1="209.69" y1="237.59" x2="209.69" y2="234.38" stroke="#666" stroke-width="0.55" />
<line x1="208.79" y1="234.38" x2="210.59" y2="234.38" stroke="#666" stroke-width="0.5" />
<rect x="206.79" y="237.74" width="5.80" height="37.26" fill="#ff0a0a" stroke="#b80000" stroke-width="0.3"/>
<line x1="209.69" y1="275.00" x2="209.69" y2="277.70" stroke="#333" stroke-width="0.55" />
<text x="210.89" y="281.20" font-size="4.2" text-anchor="end" fill="#2a2a2a" transform="rotate(-45 210.89 281.20)">FaDu</text>
<line x1="218.57" y1="251.26" x2="218.57" y2="245.14" stroke="#666" stroke-width="0.55" />
<line x1="217.67" y1="245.14" x2="219.47" y2="245.14" stroke="#666" stroke-width="0.5" />
<rect x="215.67" y="251.41" width="5.80" height="23.59" fill="#ff0a0a" stroke="#b80000" stroke-width="0.3"/>
<line x1="218.57" y1="275.00" x2="218.57" y2="277.70" stroke="#333" stroke-width="0.55" />
<text x="219.77" y="281.20" font-size="4.2" text-anchor="end" fill="#2a2a2a" transform="rotate(-45 219.77 281.20)">UM-SCC-1</text>
<line x1="227.45" y1="230.73" x2="227.45" y2="230.08" stroke="#666" stroke-width="0.55" />
<line x1="226.55" y1="230.08" x2="228.35" y2="230.08" stroke="#666" stroke-width="0.5" />
<rect x="224.55" y="230.88" width="5.80" height="44.12" fill="#ff0a0a" stroke="#b80000" stroke-width="0.3"/>
<line x1="227.45" y1="275.00" x2="227.45" y2="277.70" stroke="#333" stroke-width="0.55" />
<text x="228.65" y="281.20" font-size="4.2" text-anchor="end" fill="#2a2a2a" transform="rotate(-45 228.65 281.20)">UM-SCC-11B</text>
<line x1="236.33" y1="237.59" x2="236.33" y2="236.11" stroke="#666" stroke-width="0.55" />
<line x1="235.43" y1="236.11" x2="237.23" y2="236.11" stroke="#666" stroke-width="0.5" />
<rect x="233.43" y="237.74" width="5.80" height="37.26" fill="#ff0a0a" stroke="#b80000" stroke-width="0.3"/>
<line x1="236.33" y1="275.00" x2="236.33" y2="277.70" stroke="#333" stroke-width="0.55" />
<text x="237.53" y="281.20" font-size="4.2" text-anchor="end" fill="#2a2a2a" transform="rotate(-45 237.53 281.20)">UM-SCC-81B</text>
<line x1="177.30" y1="209.55" x2="177.30" y2="275.35" stroke="#484848" stroke-width="0.85" />
<line x1="176.90" y1="275.00" x2="242.60" y2="275.00" stroke="#484848" stroke-width="0.85" />
<line x1="174.00" y1="275.00" x2="177.30" y2="275.00" stroke="#444" stroke-width="0.6" />
<text x="172.90" y="276.35" font-size="3.8" text-anchor="end" fill="#4a4a4a" font-weight="bold">0.0</text>
<line x1="174.00" y1="253.30" x2="177.30" y2="253.30" stroke="#444" stroke-width="0.6" />
<text x="172.90" y="254.65" font-size="3.8" text-anchor="end" fill="#4a4a4a" font-weight="bold">0.5</text>
<line x1="174.00" y1="231.60" x2="177.30" y2="231.60" stroke="#444" stroke-width="0.6" />
<text x="172.90" y="232.95" font-size="3.8" text-anchor="end" fill="#4a4a4a" font-weight="bold">1.0</text>
<line x1="174.00" y1="209.90" x2="177.30" y2="209.90" stroke="#444" stroke-width="0.6" />
<text x="172.90" y="211.25" font-size="3.8" text-anchor="end" fill="#4a4a4a" font-weight="bold">1.5</text>
<text x="160.40" y="244.45" font-size="4.3" text-anchor="middle" fill="#222" font-weight="bold" transform="rotate(-90 160.40 244.45)" textLength="54.50" lengthAdjust="spacingAndGlyphs">Relative cGAS expression</text>
<text x="164.60" y="244.45" font-size="4.3" text-anchor="middle" fill="#222" font-weight="bold" transform="rotate(-90 164.60 244.45)" textLength="31.50" lengthAdjust="spacingAndGlyphs">(cGAS/β-actin)</text>
<line x1="277.05" y1="260.46" x2="277.05" y2="249.83" stroke="#666" stroke-width="0.55" />
<line x1="276.15" y1="249.83" x2="277.95" y2="249.83" stroke="#666" stroke-width="0.5" />
<rect x="274.35" y="260.61" width="5.40" height="14.39" fill="#333333" stroke="#222" stroke-width="0.3"/>
<line x1="277.05" y1="275.00" x2="277.05" y2="277.70" stroke="#333" stroke-width="0.55" />
<text x="278.25" y="281.20" font-size="4.2" text-anchor="end" fill="#2a2a2a" transform="rotate(-45 278.25 281.20)">UM-SCC-47</text>
<line x1="285.85" y1="264.37" x2="285.85" y2="257.21" stroke="#666" stroke-width="0.55" />
<line x1="284.95" y1="257.21" x2="286.75" y2="257.21" stroke="#666" stroke-width="0.5" />
<rect x="283.15" y="264.52" width="5.40" height="10.48" fill="#333333" stroke="#222" stroke-width="0.3"/>
<line x1="285.85" y1="275.00" x2="285.85" y2="277.70" stroke="#333" stroke-width="0.55" />
<text x="287.05" y="281.20" font-size="4.2" text-anchor="end" fill="#2a2a2a" transform="rotate(-45 287.05 281.20)">UPCI:SCC-154</text>
<line x1="294.65" y1="261.76" x2="294.65" y2="255.69" stroke="#666" stroke-width="0.55" />
<line x1="293.75" y1="255.69" x2="295.55" y2="255.69" stroke="#666" stroke-width="0.5" />
<rect x="291.95" y="261.91" width="5.40" height="13.09" fill="#333333" stroke="#222" stroke-width="0.3"/>
<line x1="294.65" y1="275.00" x2="294.65" y2="277.70" stroke="#333" stroke-width="0.55" />
<text x="295.85" y="281.20" font-size="4.2" text-anchor="end" fill="#2a2a2a" transform="rotate(-45 295.85 281.20)">UPCI:SCC-090</text>
<line x1="303.45" y1="231.60" x2="303.45" y2="218.58" stroke="#666" stroke-width="0.55" />
<line x1="302.55" y1="218.58" x2="304.35" y2="218.58" stroke="#666" stroke-width="0.5" />
<rect x="300.75" y="231.75" width="5.40" height="43.25" fill="#ff0a0a" stroke="#b80000" stroke-width="0.3"/>
<line x1="303.45" y1="275.00" x2="303.45" y2="277.70" stroke="#333" stroke-width="0.55" />
<text x="304.65" y="281.20" font-size="4.2" text-anchor="end" fill="#2a2a2a" transform="rotate(-45 304.65 281.20)">FaDu</text>
<line x1="312.25" y1="245.49" x2="312.25" y2="232.47" stroke="#666" stroke-width="0.55" />
<line x1="311.35" y1="232.47" x2="313.15" y2="232.47" stroke="#666" stroke-width="0.5" />
<rect x="309.55" y="245.64" width="5.40" height="29.36" fill="#ff0a0a" stroke="#b80000" stroke-width="0.3"/>
<line x1="312.25" y1="275.00" x2="312.25" y2="277.70" stroke="#333" stroke-width="0.55" />
<text x="313.45" y="281.20" font-size="4.2" text-anchor="end" fill="#2a2a2a" transform="rotate(-45 313.45 281.20)">UM-SCC-1</text>
<line x1="321.05" y1="253.30" x2="321.05" y2="247.66" stroke="#666" stroke-width="0.55" />
<line x1="320.15" y1="247.66" x2="321.95" y2="247.66" stroke="#666" stroke-width="0.5" />
<rect x="318.35" y="253.45" width="5.40" height="21.55" fill="#ff0a0a" stroke="#b80000" stroke-width="0.3"/>
<line x1="321.05" y1="275.00" x2="321.05" y2="277.70" stroke="#333" stroke-width="0.55" />
<text x="322.25" y="281.20" font-size="4.2" text-anchor="end" fill="#2a2a2a" transform="rotate(-45 322.25 281.20)">UM-SCC-11B</text>
<line x1="329.85" y1="245.92" x2="329.85" y2="236.37" stroke="#666" stroke-width="0.55" />
<line x1="328.95" y1="236.37" x2="330.75" y2="236.37" stroke="#666" stroke-width="0.5" />
<rect x="327.15" y="246.07" width="5.40" height="28.93" fill="#ff0a0a" stroke="#b80000" stroke-width="0.3"/>
<line x1="329.85" y1="275.00" x2="329.85" y2="277.70" stroke="#333" stroke-width="0.55" />
<text x="331.05" y="281.20" font-size="4.2" text-anchor="end" fill="#2a2a2a" transform="rotate(-45 331.05 281.20)">UM-SCC-81B</text>
<line x1="271.20" y1="209.55" x2="271.20" y2="275.35" stroke="#484848" stroke-width="0.85" />
<line x1="270.80" y1="275.00" x2="336.80" y2="275.00" stroke="#484848" stroke-width="0.85" />
<line x1="267.90" y1="275.00" x2="271.20" y2="275.00" stroke="#444" stroke-width="0.6" />
<text x="266.80" y="276.35" font-size="3.8" text-anchor="end" fill="#4a4a4a" font-weight="bold">0.0</text>
<line x1="267.90" y1="253.30" x2="271.20" y2="253.30" stroke="#444" stroke-width="0.6" />
<text x="266.80" y="254.65" font-size="3.8" text-anchor="end" fill="#4a4a4a" font-weight="bold">0.5</text>
<line x1="267.90" y1="231.60" x2="271.20" y2="231.60" stroke="#444" stroke-width="0.6" />
<text x="266.80" y="232.95" font-size="3.8" text-anchor="end" fill="#4a4a4a" font-weight="bold">1.0</text>
<line x1="267.90" y1="209.90" x2="271.20" y2="209.90" stroke="#444" stroke-width="0.6" />
<text x="266.80" y="211.25" font-size="3.8" text-anchor="end" fill="#4a4a4a" font-weight="bold">1.5</text>
<text x="254.20" y="244.45" font-size="4.3" text-anchor="middle" fill="#222" font-weight="bold" transform="rotate(-90 254.20 244.45)" textLength="56.50" lengthAdjust="spacingAndGlyphs">Relative STING expression</text>
<text x="258.50" y="244.45" font-size="4.3" text-anchor="middle" fill="#222" font-weight="bold" transform="rotate(-90 258.50 244.45)" textLength="34.00" lengthAdjust="spacingAndGlyphs">(STING/β-actin)</text>
<line x1="371.00" y1="247.22" x2="371.00" y2="244.62" stroke="#666" stroke-width="0.55" />
<line x1="370.10" y1="244.62" x2="371.90" y2="244.62" stroke="#666" stroke-width="0.5" />
<rect x="368.35" y="247.37" width="5.30" height="27.63" fill="#333333" stroke="#222" stroke-width="0.3"/>
<line x1="371.00" y1="275.00" x2="371.00" y2="277.70" stroke="#333" stroke-width="0.55" />
<text x="372.20" y="281.20" font-size="4.2" text-anchor="end" fill="#2a2a2a" transform="rotate(-45 372.20 281.20)">UM-SCC-47</text>
<line x1="379.78" y1="254.82" x2="379.78" y2="248.31" stroke="#666" stroke-width="0.55" />
<line x1="378.88" y1="248.31" x2="380.68" y2="248.31" stroke="#666" stroke-width="0.5" />
<rect x="377.13" y="254.97" width="5.30" height="20.03" fill="#333333" stroke="#222" stroke-width="0.3"/>
<line x1="379.78" y1="275.00" x2="379.78" y2="277.70" stroke="#333" stroke-width="0.55" />
<text x="380.98" y="281.20" font-size="4.2" text-anchor="end" fill="#2a2a2a" transform="rotate(-45 380.98 281.20)">UPCI:SCC-154</text>
<line x1="388.56" y1="245.27" x2="388.56" y2="230.30" stroke="#666" stroke-width="0.55" />
<line x1="387.66" y1="230.30" x2="389.46" y2="230.30" stroke="#666" stroke-width="0.5" />
<rect x="385.91" y="245.42" width="5.30" height="29.58" fill="#333333" stroke="#222" stroke-width="0.3"/>
<line x1="388.56" y1="275.00" x2="388.56" y2="277.70" stroke="#333" stroke-width="0.55" />
<text x="389.76" y="281.20" font-size="4.2" text-anchor="end" fill="#2a2a2a" transform="rotate(-45 389.76 281.20)">UPCI:SCC-090</text>
<line x1="397.34" y1="265.45" x2="397.34" y2="253.73" stroke="#666" stroke-width="0.55" />
<line x1="396.44" y1="253.73" x2="398.24" y2="253.73" stroke="#666" stroke-width="0.5" />
<rect x="394.69" y="265.60" width="5.30" height="9.40" fill="#ff0a0a" stroke="#b80000" stroke-width="0.3"/>
<line x1="397.34" y1="275.00" x2="397.34" y2="277.70" stroke="#333" stroke-width="0.55" />
<text x="398.54" y="281.20" font-size="4.2" text-anchor="end" fill="#2a2a2a" transform="rotate(-45 398.54 281.20)">FaDu</text>
<line x1="406.12" y1="260.03" x2="406.12" y2="253.73" stroke="#666" stroke-width="0.55" />
<line x1="405.22" y1="253.73" x2="407.02" y2="253.73" stroke="#666" stroke-width="0.5" />
<rect x="403.47" y="260.18" width="5.30" height="14.82" fill="#ff0a0a" stroke="#b80000" stroke-width="0.3"/>
<line x1="406.12" y1="275.00" x2="406.12" y2="277.70" stroke="#333" stroke-width="0.55" />
<text x="407.32" y="281.20" font-size="4.2" text-anchor="end" fill="#2a2a2a" transform="rotate(-45 407.32 281.20)">UM-SCC-1</text>
<line x1="414.90" y1="256.99" x2="414.90" y2="247.66" stroke="#666" stroke-width="0.55" />
<line x1="414.00" y1="247.66" x2="415.80" y2="247.66" stroke="#666" stroke-width="0.5" />
<rect x="412.25" y="257.14" width="5.30" height="17.86" fill="#ff0a0a" stroke="#b80000" stroke-width="0.3"/>
<line x1="414.90" y1="275.00" x2="414.90" y2="277.70" stroke="#333" stroke-width="0.55" />
<text x="416.10" y="281.20" font-size="4.2" text-anchor="end" fill="#2a2a2a" transform="rotate(-45 416.10 281.20)">UM-SCC-11B</text>
<line x1="423.68" y1="260.03" x2="423.68" y2="251.35" stroke="#666" stroke-width="0.55" />
<line x1="422.78" y1="251.35" x2="424.58" y2="251.35" stroke="#666" stroke-width="0.5" />
<rect x="421.03" y="260.18" width="5.30" height="14.82" fill="#ff0a0a" stroke="#b80000" stroke-width="0.3"/>
<line x1="423.68" y1="275.00" x2="423.68" y2="277.70" stroke="#333" stroke-width="0.55" />
<text x="424.88" y="281.20" font-size="4.2" text-anchor="end" fill="#2a2a2a" transform="rotate(-45 424.88 281.20)">UM-SCC-81B</text>
<line x1="364.90" y1="209.55" x2="364.90" y2="275.35" stroke="#484848" stroke-width="0.85" />
<line x1="364.50" y1="275.00" x2="430.00" y2="275.00" stroke="#484848" stroke-width="0.85" />
<line x1="361.60" y1="275.00" x2="364.90" y2="275.00" stroke="#444" stroke-width="0.6" />
<text x="360.50" y="276.35" font-size="3.8" text-anchor="end" fill="#4a4a4a" font-weight="bold">0.0</text>
<line x1="361.60" y1="253.30" x2="364.90" y2="253.30" stroke="#444" stroke-width="0.6" />
<text x="360.50" y="254.65" font-size="3.8" text-anchor="end" fill="#4a4a4a" font-weight="bold">0.5</text>
<line x1="361.60" y1="231.60" x2="364.90" y2="231.60" stroke="#444" stroke-width="0.6" />
<text x="360.50" y="232.95" font-size="3.8" text-anchor="end" fill="#4a4a4a" font-weight="bold">1.0</text>
<line x1="361.60" y1="209.90" x2="364.90" y2="209.90" stroke="#444" stroke-width="0.6" />
<text x="360.50" y="211.25" font-size="3.8" text-anchor="end" fill="#4a4a4a" font-weight="bold">1.5</text>
<text x="346.80" y="244.45" font-size="4.3" text-anchor="middle" fill="#222" font-weight="bold" transform="rotate(-90 346.80 244.45)" textLength="54.50" lengthAdjust="spacingAndGlyphs">Relative TBK1 expression</text>
<text x="351.00" y="244.45" font-size="4.3" text-anchor="middle" fill="#222" font-weight="bold" transform="rotate(-90 351.00 244.45)" textLength="31.50" lengthAdjust="spacingAndGlyphs">(TBK1/β-actin)</text>
<line x1="182.70" y1="333.19" x2="182.70" y2="326.72" stroke="#666" stroke-width="0.55" />
<line x1="181.80" y1="326.72" x2="183.60" y2="326.72" stroke="#666" stroke-width="0.5" />
<rect x="179.95" y="333.34" width="5.50" height="45.76" fill="#333333" stroke="#222" stroke-width="0.3"/>
<line x1="182.70" y1="379.10" x2="182.70" y2="381.80" stroke="#333" stroke-width="0.55" />
<text x="183.90" y="385.30" font-size="4.2" text-anchor="end" fill="#2a2a2a" transform="rotate(-45 183.90 385.30)">UM-SCC-47</text>
<line x1="191.30" y1="338.20" x2="191.30" y2="336.95" stroke="#666" stroke-width="0.55" />
<line x1="190.40" y1="336.95" x2="192.20" y2="336.95" stroke="#666" stroke-width="0.5" />
<rect x="188.55" y="338.35" width="5.50" height="40.75" fill="#333333" stroke="#222" stroke-width="0.3"/>
<line x1="191.30" y1="379.10" x2="191.30" y2="381.80" stroke="#333" stroke-width="0.55" />
<text x="192.50" y="385.30" font-size="4.2" text-anchor="end" fill="#2a2a2a" transform="rotate(-45 192.50 385.30)">UPCI:SCC-154</text>
<line x1="199.90" y1="335.07" x2="199.90" y2="328.60" stroke="#666" stroke-width="0.55" />
<line x1="199.00" y1="328.60" x2="200.80" y2="328.60" stroke="#666" stroke-width="0.5" />
<rect x="197.15" y="335.22" width="5.50" height="43.88" fill="#333333" stroke="#222" stroke-width="0.3"/>
<line x1="199.90" y1="379.10" x2="199.90" y2="381.80" stroke="#333" stroke-width="0.55" />
<text x="201.10" y="385.30" font-size="4.2" text-anchor="end" fill="#2a2a2a" transform="rotate(-45 201.10 385.30)">UPCI:SCC-090</text>
<line x1="208.50" y1="348.63" x2="208.50" y2="345.30" stroke="#666" stroke-width="0.55" />
<line x1="207.60" y1="345.30" x2="209.40" y2="345.30" stroke="#666" stroke-width="0.5" />
<rect x="205.75" y="348.78" width="5.50" height="30.32" fill="#ff0a0a" stroke="#b80000" stroke-width="0.3"/>
<line x1="208.50" y1="379.10" x2="208.50" y2="381.80" stroke="#333" stroke-width="0.55" />
<text x="209.70" y="385.30" font-size="4.2" text-anchor="end" fill="#2a2a2a" transform="rotate(-45 209.70 385.30)">FaDu</text>
<line x1="217.10" y1="331.94" x2="217.10" y2="317.75" stroke="#666" stroke-width="0.55" />
<line x1="216.20" y1="317.75" x2="218.00" y2="317.75" stroke="#666" stroke-width="0.5" />
<rect x="214.35" y="332.09" width="5.50" height="47.01" fill="#ff0a0a" stroke="#b80000" stroke-width="0.3"/>
<line x1="217.10" y1="379.10" x2="217.10" y2="381.80" stroke="#333" stroke-width="0.55" />
<text x="218.30" y="385.30" font-size="4.2" text-anchor="end" fill="#2a2a2a" transform="rotate(-45 218.30 385.30)">UM-SCC-1</text>
<line x1="225.70" y1="329.02" x2="225.70" y2="321.30" stroke="#666" stroke-width="0.55" />
<line x1="224.80" y1="321.30" x2="226.60" y2="321.30" stroke="#666" stroke-width="0.5" />
<rect x="222.95" y="329.17" width="5.50" height="49.93" fill="#ff0a0a" stroke="#b80000" stroke-width="0.3"/>
<line x1="225.70" y1="379.10" x2="225.70" y2="381.80" stroke="#333" stroke-width="0.55" />
<text x="226.90" y="385.30" font-size="4.2" text-anchor="end" fill="#2a2a2a" transform="rotate(-45 226.90 385.30)">UM-SCC-11B</text>
<line x1="234.30" y1="330.90" x2="234.30" y2="325.47" stroke="#666" stroke-width="0.55" />
<line x1="233.40" y1="325.47" x2="235.20" y2="325.47" stroke="#666" stroke-width="0.5" />
<rect x="231.55" y="331.05" width="5.50" height="48.05" fill="#ff0a0a" stroke="#b80000" stroke-width="0.3"/>
<line x1="234.30" y1="379.10" x2="234.30" y2="381.80" stroke="#333" stroke-width="0.55" />
<text x="235.50" y="385.30" font-size="4.2" text-anchor="end" fill="#2a2a2a" transform="rotate(-45 235.50 385.30)">UM-SCC-81B</text>
<line x1="176.90" y1="316.15" x2="176.90" y2="379.45" stroke="#484848" stroke-width="0.85" />
<line x1="176.50" y1="379.10" x2="240.20" y2="379.10" stroke="#484848" stroke-width="0.85" />
<line x1="173.60" y1="379.10" x2="176.90" y2="379.10" stroke="#444" stroke-width="0.6" />
<text x="172.50" y="380.45" font-size="3.8" text-anchor="end" fill="#4a4a4a" font-weight="bold">0.0</text>
<line x1="173.60" y1="358.23" x2="176.90" y2="358.23" stroke="#444" stroke-width="0.6" />
<text x="172.50" y="359.58" font-size="3.8" text-anchor="end" fill="#4a4a4a" font-weight="bold">0.5</text>
<line x1="173.60" y1="337.37" x2="176.90" y2="337.37" stroke="#444" stroke-width="0.6" />
<text x="172.50" y="338.72" font-size="3.8" text-anchor="end" fill="#4a4a4a" font-weight="bold">1.0</text>
<line x1="173.60" y1="316.50" x2="176.90" y2="316.50" stroke="#444" stroke-width="0.6" />
<text x="172.50" y="317.85" font-size="3.8" text-anchor="end" fill="#4a4a4a" font-weight="bold">1.5</text>
<text x="160.00" y="349.80" font-size="4.3" text-anchor="middle" fill="#222" font-weight="bold" transform="rotate(-90 160.00 349.80)" textLength="52.50" lengthAdjust="spacingAndGlyphs">Relative IRF3 expression</text>
<text x="164.20" y="349.80" font-size="4.3" text-anchor="middle" fill="#222" font-weight="bold" transform="rotate(-90 164.20 349.80)" textLength="29.50" lengthAdjust="spacingAndGlyphs">(IRF3/β-actin)</text>
<line x1="276.95" y1="339.45" x2="276.95" y2="320.88" stroke="#666" stroke-width="0.55" />
<line x1="276.05" y1="320.88" x2="277.85" y2="320.88" stroke="#666" stroke-width="0.5" />
<rect x="274.25" y="339.60" width="5.40" height="39.50" fill="#333333" stroke="#222" stroke-width="0.3"/>
<line x1="276.95" y1="379.10" x2="276.95" y2="381.80" stroke="#333" stroke-width="0.55" />
<text x="278.15" y="385.30" font-size="4.2" text-anchor="end" fill="#2a2a2a" transform="rotate(-45 278.15 385.30)">UM-SCC-47</text>
<line x1="285.45" y1="351.76" x2="285.45" y2="345.71" stroke="#666" stroke-width="0.55" />
<line x1="284.55" y1="345.71" x2="286.35" y2="345.71" stroke="#666" stroke-width="0.5" />
<rect x="282.75" y="351.91" width="5.40" height="27.19" fill="#333333" stroke="#222" stroke-width="0.3"/>
<line x1="285.45" y1="379.10" x2="285.45" y2="381.80" stroke="#333" stroke-width="0.55" />
<text x="286.65" y="385.30" font-size="4.2" text-anchor="end" fill="#2a2a2a" transform="rotate(-45 286.65 385.30)">UPCI:SCC-154</text>
<line x1="293.95" y1="343.00" x2="293.95" y2="341.96" stroke="#666" stroke-width="0.55" />
<line x1="293.05" y1="341.96" x2="294.85" y2="341.96" stroke="#666" stroke-width="0.5" />
<rect x="291.25" y="343.15" width="5.40" height="35.95" fill="#333333" stroke="#222" stroke-width="0.3"/>
<line x1="293.95" y1="379.10" x2="293.95" y2="381.80" stroke="#333" stroke-width="0.55" />
<text x="295.15" y="385.30" font-size="4.2" text-anchor="end" fill="#2a2a2a" transform="rotate(-45 295.15 385.30)">UPCI:SCC-090</text>
<line x1="302.45" y1="352.60" x2="302.45" y2="343.21" stroke="#666" stroke-width="0.55" />
<line x1="301.55" y1="343.21" x2="303.35" y2="343.21" stroke="#666" stroke-width="0.5" />
<rect x="299.75" y="352.75" width="5.40" height="26.35" fill="#ff0a0a" stroke="#b80000" stroke-width="0.3"/>
<line x1="302.45" y1="379.10" x2="302.45" y2="381.80" stroke="#333" stroke-width="0.55" />
<text x="303.65" y="385.30" font-size="4.2" text-anchor="end" fill="#2a2a2a" transform="rotate(-45 303.65 385.30)">FaDu</text>
<line x1="310.95" y1="341.12" x2="310.95" y2="333.19" stroke="#666" stroke-width="0.55" />
<line x1="310.05" y1="333.19" x2="311.85" y2="333.19" stroke="#666" stroke-width="0.5" />
<rect x="308.25" y="341.27" width="5.40" height="37.83" fill="#ff0a0a" stroke="#b80000" stroke-width="0.3"/>
<line x1="310.95" y1="379.10" x2="310.95" y2="381.80" stroke="#333" stroke-width="0.55" />
<text x="312.15" y="385.30" font-size="4.2" text-anchor="end" fill="#2a2a2a" transform="rotate(-45 312.15 385.30)">UM-SCC-1</text>
<line x1="319.45" y1="347.80" x2="319.45" y2="339.45" stroke="#666" stroke-width="0.55" />
<line x1="318.55" y1="339.45" x2="320.35" y2="339.45" stroke="#666" stroke-width="0.5" />
<rect x="316.75" y="347.95" width="5.40" height="31.15" fill="#ff0a0a" stroke="#b80000" stroke-width="0.3"/>
<line x1="319.45" y1="379.10" x2="319.45" y2="381.80" stroke="#333" stroke-width="0.55" />
<text x="320.65" y="385.30" font-size="4.2" text-anchor="end" fill="#2a2a2a" transform="rotate(-45 320.65 385.30)">UM-SCC-11B</text>
<line x1="327.95" y1="347.38" x2="327.95" y2="343.21" stroke="#666" stroke-width="0.55" />
<line x1="327.05" y1="343.21" x2="328.85" y2="343.21" stroke="#666" stroke-width="0.5" />
<rect x="325.25" y="347.53" width="5.40" height="31.57" fill="#ff0a0a" stroke="#b80000" stroke-width="0.3"/>
<line x1="327.95" y1="379.10" x2="327.95" y2="381.80" stroke="#333" stroke-width="0.55" />
<text x="329.15" y="385.30" font-size="4.2" text-anchor="end" fill="#2a2a2a" transform="rotate(-45 329.15 385.30)">UM-SCC-81B</text>
<line x1="271.00" y1="316.15" x2="271.00" y2="379.45" stroke="#484848" stroke-width="0.85" />
<line x1="270.60" y1="379.10" x2="334.00" y2="379.10" stroke="#484848" stroke-width="0.85" />
<line x1="267.70" y1="379.10" x2="271.00" y2="379.10" stroke="#444" stroke-width="0.6" />
<text x="266.60" y="380.45" font-size="3.8" text-anchor="end" fill="#4a4a4a" font-weight="bold">0.0</text>
<line x1="267.70" y1="358.23" x2="271.00" y2="358.23" stroke="#444" stroke-width="0.6" />
<text x="266.60" y="359.58" font-size="3.8" text-anchor="end" fill="#4a4a4a" font-weight="bold">0.5</text>
<line x1="267.70" y1="337.37" x2="271.00" y2="337.37" stroke="#444" stroke-width="0.6" />
<text x="266.60" y="338.72" font-size="3.8" text-anchor="end" fill="#4a4a4a" font-weight="bold">1.0</text>
<line x1="267.70" y1="316.50" x2="271.00" y2="316.50" stroke="#444" stroke-width="0.6" />
<text x="266.60" y="317.85" font-size="3.8" text-anchor="end" fill="#4a4a4a" font-weight="bold">1.5</text>
<text x="253.80" y="349.80" font-size="4.3" text-anchor="middle" fill="#222" font-weight="bold" transform="rotate(-90 253.80 349.80)" textLength="54.50" lengthAdjust="spacingAndGlyphs">Relative MAVS expression</text>
<text x="258.40" y="349.80" font-size="4.3" text-anchor="middle" fill="#222" font-weight="bold" transform="rotate(-90 258.40 349.80)" textLength="32.00" lengthAdjust="spacingAndGlyphs">(MAVS/β-actin)</text>
<line x1="370.85" y1="332.36" x2="370.85" y2="319.42" stroke="#666" stroke-width="0.55" />
<line x1="369.95" y1="319.42" x2="371.75" y2="319.42" stroke="#666" stroke-width="0.5" />
<rect x="368.15" y="332.51" width="5.40" height="46.59" fill="#333333" stroke="#222" stroke-width="0.3"/>
<line x1="370.85" y1="379.10" x2="370.85" y2="381.80" stroke="#333" stroke-width="0.55" />
<text x="372.05" y="385.30" font-size="4.2" text-anchor="end" fill="#2a2a2a" transform="rotate(-45 372.05 385.30)">UM-SCC-47</text>
<line x1="379.35" y1="350.72" x2="379.35" y2="346.55" stroke="#666" stroke-width="0.55" />
<line x1="378.45" y1="346.55" x2="380.25" y2="346.55" stroke="#666" stroke-width="0.5" />
<rect x="376.65" y="350.87" width="5.40" height="28.23" fill="#333333" stroke="#222" stroke-width="0.3"/>
<line x1="379.35" y1="379.10" x2="379.35" y2="381.80" stroke="#333" stroke-width="0.55" />
<text x="380.55" y="385.30" font-size="4.2" text-anchor="end" fill="#2a2a2a" transform="rotate(-45 380.55 385.30)">UPCI:SCC-154</text>
<line x1="387.85" y1="340.91" x2="387.85" y2="337.78" stroke="#666" stroke-width="0.55" />
<line x1="386.95" y1="337.78" x2="388.75" y2="337.78" stroke="#666" stroke-width="0.5" />
<rect x="385.15" y="341.06" width="5.40" height="38.04" fill="#333333" stroke="#222" stroke-width="0.3"/>
<line x1="387.85" y1="379.10" x2="387.85" y2="381.80" stroke="#333" stroke-width="0.55" />
<text x="389.05" y="385.30" font-size="4.2" text-anchor="end" fill="#2a2a2a" transform="rotate(-45 389.05 385.30)">UPCI:SCC-090</text>
<line x1="396.35" y1="364.70" x2="396.35" y2="356.56" stroke="#666" stroke-width="0.55" />
<line x1="395.45" y1="356.56" x2="397.25" y2="356.56" stroke="#666" stroke-width="0.5" />
<rect x="393.65" y="364.85" width="5.40" height="14.25" fill="#ff0a0a" stroke="#b80000" stroke-width="0.3"/>
<line x1="396.35" y1="379.10" x2="396.35" y2="381.80" stroke="#333" stroke-width="0.55" />
<text x="397.55" y="385.30" font-size="4.2" text-anchor="end" fill="#2a2a2a" transform="rotate(-45 397.55 385.30)">FaDu</text>
<line x1="404.85" y1="340.71" x2="404.85" y2="337.16" stroke="#666" stroke-width="0.55" />
<line x1="403.95" y1="337.16" x2="405.75" y2="337.16" stroke="#666" stroke-width="0.5" />
<rect x="402.15" y="340.86" width="5.40" height="38.24" fill="#ff0a0a" stroke="#b80000" stroke-width="0.3"/>
<line x1="404.85" y1="379.10" x2="404.85" y2="381.80" stroke="#333" stroke-width="0.55" />
<text x="406.05" y="385.30" font-size="4.2" text-anchor="end" fill="#2a2a2a" transform="rotate(-45 406.05 385.30)">UM-SCC-1</text>
<line x1="413.35" y1="349.26" x2="413.35" y2="348.43" stroke="#666" stroke-width="0.55" />
<line x1="412.45" y1="348.43" x2="414.25" y2="348.43" stroke="#666" stroke-width="0.5" />
<rect x="410.65" y="349.41" width="5.40" height="29.69" fill="#ff0a0a" stroke="#b80000" stroke-width="0.3"/>
<line x1="413.35" y1="379.10" x2="413.35" y2="381.80" stroke="#333" stroke-width="0.55" />
<text x="414.55" y="385.30" font-size="4.2" text-anchor="end" fill="#2a2a2a" transform="rotate(-45 414.55 385.30)">UM-SCC-11B</text>
<line x1="421.85" y1="342.37" x2="421.85" y2="336.53" stroke="#666" stroke-width="0.55" />
<line x1="420.95" y1="336.53" x2="422.75" y2="336.53" stroke="#666" stroke-width="0.5" />
<rect x="419.15" y="342.52" width="5.40" height="36.58" fill="#ff0a0a" stroke="#b80000" stroke-width="0.3"/>
<line x1="421.85" y1="379.10" x2="421.85" y2="381.80" stroke="#333" stroke-width="0.55" />
<text x="423.05" y="385.30" font-size="4.2" text-anchor="end" fill="#2a2a2a" transform="rotate(-45 423.05 385.30)">UM-SCC-81B</text>
<line x1="364.90" y1="316.15" x2="364.90" y2="379.45" stroke="#484848" stroke-width="0.85" />
<line x1="364.50" y1="379.10" x2="427.80" y2="379.10" stroke="#484848" stroke-width="0.85" />
<line x1="361.60" y1="379.10" x2="364.90" y2="379.10" stroke="#444" stroke-width="0.6" />
<text x="360.50" y="380.45" font-size="3.8" text-anchor="end" fill="#4a4a4a" font-weight="bold">0.0</text>
<line x1="361.60" y1="358.23" x2="364.90" y2="358.23" stroke="#444" stroke-width="0.6" />
<text x="360.50" y="359.58" font-size="3.8" text-anchor="end" fill="#4a4a4a" font-weight="bold">0.5</text>
<line x1="361.60" y1="337.37" x2="364.90" y2="337.37" stroke="#444" stroke-width="0.6" />
<text x="360.50" y="338.72" font-size="3.8" text-anchor="end" fill="#4a4a4a" font-weight="bold">1.0</text>
<line x1="361.60" y1="316.50" x2="364.90" y2="316.50" stroke="#444" stroke-width="0.6" />
<text x="360.50" y="317.85" font-size="3.8" text-anchor="end" fill="#4a4a4a" font-weight="bold">1.5</text>
<text x="347.40" y="349.80" font-size="4.3" text-anchor="middle" fill="#222" font-weight="bold" transform="rotate(-90 347.40 349.80)" textLength="56.50" lengthAdjust="spacingAndGlyphs">Relative MyD88 expression</text>
<text x="351.80" y="349.80" font-size="4.3" text-anchor="middle" fill="#222" font-weight="bold" transform="rotate(-90 351.80 349.80)" textLength="34.00" lengthAdjust="spacingAndGlyphs">(MyD88/β-actin)</text>
<path d="M285.3 183.2 V179.5 H312.2 V183.2" fill="none" stroke="#111" stroke-width="0.75" />
<text x="298.80" y="180.20" font-size="7.6" text-anchor="middle" fill="#111" font-weight="bold">*</text>
<path d="M276.5 198.5 V190.3 H303.5 V198.5" fill="none" stroke="#111" stroke-width="0.75" />
<text x="290.00" y="191.00" font-size="7.6" text-anchor="middle" fill="#111" font-weight="bold">***</text>
<path d="M285.3 204.8 V201.5 H303.5 V204.8" fill="none" stroke="#111" stroke-width="0.75" />
<text x="294.50" y="202.90" font-size="7.6" text-anchor="middle" fill="#111" font-weight="bold">***</text>
<path d="M294.5 217.2 V213.5 H303.5 V217.2" fill="none" stroke="#111" stroke-width="0.75" />
<text x="298.90" y="214.00" font-size="7.6" text-anchor="middle" fill="#111" font-weight="bold">***</text>
<path d="M370.6 317.6 V314.2 H396.8 V317.6" fill="none" stroke="#111" stroke-width="0.75" />
<text x="383.40" y="314.20" font-size="7.6" text-anchor="middle" fill="#111" font-weight="bold">*</text>
<rect x="444.70" y="209.70" width="12.10" height="6.10" fill="#000"/>
<rect x="444.70" y="220.40" width="12.10" height="6.10" fill="#ff0000"/>
<text x="459.0" y="215.5" font-size="8.5" fill="#000" textLength="13.5" lengthAdjust="spacingAndGlyphs">HPV</text>
<text x="472.70" y="212.30" font-size="5.2" text-anchor="start" fill="#000">+</text>
<text x="459.0" y="226.2" font-size="8.5" fill="#000" textLength="13.5" lengthAdjust="spacingAndGlyphs">HPV</text>
<text x="472.90" y="222.60" font-size="5.2" text-anchor="start" fill="#000">-</text>
</g>
<g id="panelE">
<text x="436.60" y="310.00" font-size="13.8" text-anchor="start" fill="#000" stroke="#000" stroke-width="0.25">E</text>
<line x1="464.55" y1="368.13" x2="464.55" y2="364.21" stroke="#666" stroke-width="0.55" />
<line x1="463.65" y1="364.21" x2="465.45" y2="364.21" stroke="#666" stroke-width="0.5" />
<rect x="460.95" y="368.28" width="7.20" height="10.82" fill="#333333" stroke="#222" stroke-width="0.3"/>
<line x1="464.55" y1="379.10" x2="464.55" y2="381.80" stroke="#333" stroke-width="0.55" />
<text x="465.75" y="385.30" font-size="4.2" text-anchor="end" fill="#2a2a2a" transform="rotate(-45 465.75 385.30)">UM-SCC-47</text>
<line x1="476.45" y1="378.32" x2="476.45" y2="375.70" stroke="#666" stroke-width="0.55" />
<line x1="475.55" y1="375.70" x2="477.35" y2="375.70" stroke="#666" stroke-width="0.5" />
<rect x="472.85" y="378.47" width="7.20" height="0.63" fill="#333333" stroke="#222" stroke-width="0.3"/>
<line x1="476.45" y1="379.10" x2="476.45" y2="381.80" stroke="#333" stroke-width="0.55" />
<text x="477.65" y="385.30" font-size="4.2" text-anchor="end" fill="#2a2a2a" transform="rotate(-45 477.65 385.30)">UPCI:SCC-154</text>
<line x1="488.35" y1="378.47" x2="488.35" y2="377.69" stroke="#666" stroke-width="0.55" />
<line x1="487.45" y1="377.69" x2="489.25" y2="377.69" stroke="#666" stroke-width="0.5" />
<rect x="484.75" y="378.62" width="7.20" height="0.48" fill="#333333" stroke="#222" stroke-width="0.3"/>
<line x1="488.35" y1="379.10" x2="488.35" y2="381.80" stroke="#333" stroke-width="0.55" />
<text x="489.55" y="385.30" font-size="4.2" text-anchor="end" fill="#2a2a2a" transform="rotate(-45 489.55 385.30)">UPCI:SCC-090</text>
<line x1="500.25" y1="368.39" x2="500.25" y2="366.30" stroke="#666" stroke-width="0.55" />
<line x1="499.35" y1="366.30" x2="501.15" y2="366.30" stroke="#666" stroke-width="0.5" />
<rect x="496.65" y="368.54" width="7.20" height="10.56" fill="#ff0a0a" stroke="#b80000" stroke-width="0.3"/>
<line x1="500.25" y1="379.10" x2="500.25" y2="381.80" stroke="#333" stroke-width="0.55" />
<text x="501.45" y="385.30" font-size="4.2" text-anchor="end" fill="#2a2a2a" transform="rotate(-45 501.45 385.30)">FaDu</text>
<line x1="512.15" y1="326.85" x2="512.15" y2="326.85" stroke="#666" stroke-width="0.55" />
<line x1="511.25" y1="326.85" x2="513.05" y2="326.85" stroke="#666" stroke-width="0.5" />
<rect x="508.40" y="326.85" width="7.50" height="52.25" fill="#d9d9d9" stroke="#8a8a8a" stroke-width="0.5"/>
<line x1="512.15" y1="379.10" x2="512.15" y2="381.80" stroke="#333" stroke-width="0.55" />
<text x="513.35" y="385.30" font-size="4.2" text-anchor="end" fill="#2a2a2a" transform="rotate(-45 513.35 385.30)">THP-1</text>
<line x1="457.40" y1="316.05" x2="457.40" y2="379.45" stroke="#484848" stroke-width="0.85" />
<line x1="457.00" y1="379.10" x2="518.00" y2="379.10" stroke="#484848" stroke-width="0.85" />
<line x1="454.10" y1="379.10" x2="457.40" y2="379.10" stroke="#444" stroke-width="0.6" />
<text x="453.00" y="380.45" font-size="3.8" text-anchor="end" fill="#4a4a4a" font-weight="bold">0.0</text>
<line x1="454.10" y1="368.65" x2="457.40" y2="368.65" stroke="#444" stroke-width="0.6" />
<text x="453.00" y="370.00" font-size="3.8" text-anchor="end" fill="#4a4a4a" font-weight="bold">0.2</text>
<line x1="454.10" y1="358.20" x2="457.40" y2="358.20" stroke="#444" stroke-width="0.6" />
<text x="453.00" y="359.55" font-size="3.8" text-anchor="end" fill="#4a4a4a" font-weight="bold">0.4</text>
<line x1="454.10" y1="347.75" x2="457.40" y2="347.75" stroke="#444" stroke-width="0.6" />
<text x="453.00" y="349.10" font-size="3.8" text-anchor="end" fill="#4a4a4a" font-weight="bold">0.6</text>
<line x1="454.10" y1="337.30" x2="457.40" y2="337.30" stroke="#444" stroke-width="0.6" />
<text x="453.00" y="338.65" font-size="3.8" text-anchor="end" fill="#4a4a4a" font-weight="bold">0.8</text>
<line x1="454.10" y1="326.85" x2="457.40" y2="326.85" stroke="#444" stroke-width="0.6" />
<text x="453.00" y="328.20" font-size="3.8" text-anchor="end" fill="#4a4a4a" font-weight="bold">1.0</text>
<line x1="454.10" y1="316.40" x2="457.40" y2="316.40" stroke="#444" stroke-width="0.6" />
<text x="453.00" y="317.75" font-size="3.8" text-anchor="end" fill="#4a4a4a" font-weight="bold">1.2</text>
<text x="445.20" y="349.75" font-size="5.0" text-anchor="middle" fill="#222" font-weight="bold" transform="rotate(-90 445.20 349.75)" textLength="52.00" lengthAdjust="spacingAndGlyphs">Relative STING mRNA</text>
</g>
</svg>
</body></html>
